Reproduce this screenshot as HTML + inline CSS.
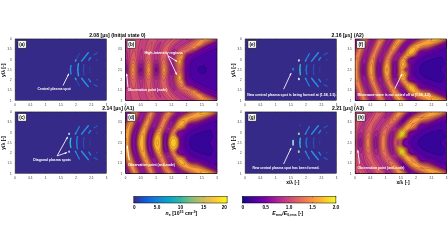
<!DOCTYPE html><html><head><meta charset="utf-8"><title>Plasma spots and E field</title>
<style>html,body{margin:0;padding:0;background:#fff;overflow:hidden}body{width:448px;height:252px;position:relative}svg{position:absolute;left:0;top:0;display:block}text{font-family:"Liberation Sans",sans-serif}</style></head><body>
<svg width="448" height="252" viewBox="0 0 448 252">
<defs><clipPath id="pc"><rect width="91.5" height="61.6"/></clipPath>
<filter id="bl" x="-5%" y="-5%" width="110%" height="110%"><feGaussianBlur stdDeviation="0.45"/></filter>
<linearGradient id="gp"><stop offset="0.000" stop-color="#0d0887"/><stop offset="0.062" stop-color="#310597"/><stop offset="0.125" stop-color="#4c02a1"/><stop offset="0.188" stop-color="#6600a7"/><stop offset="0.250" stop-color="#7e03a8"/><stop offset="0.312" stop-color="#9511a1"/><stop offset="0.375" stop-color="#aa2395"/><stop offset="0.438" stop-color="#bc3587"/><stop offset="0.500" stop-color="#cc4778"/><stop offset="0.562" stop-color="#da5a6a"/><stop offset="0.625" stop-color="#e66c5c"/><stop offset="0.688" stop-color="#f0804e"/><stop offset="0.750" stop-color="#f89540"/><stop offset="0.812" stop-color="#fdac33"/><stop offset="0.875" stop-color="#fdc527"/><stop offset="0.938" stop-color="#f8df25"/><stop offset="1.000" stop-color="#f0f921"/></linearGradient>
<linearGradient id="gq"><stop offset="0.000" stop-color="#352a87"/><stop offset="0.062" stop-color="#2243b2"/><stop offset="0.125" stop-color="#0f5cdd"/><stop offset="0.188" stop-color="#126eda"/><stop offset="0.250" stop-color="#1481d6"/><stop offset="0.312" stop-color="#0d92d0"/><stop offset="0.375" stop-color="#06a4ca"/><stop offset="0.438" stop-color="#1aaeb7"/><stop offset="0.500" stop-color="#2eb7a4"/><stop offset="0.562" stop-color="#5abb8e"/><stop offset="0.625" stop-color="#87bf77"/><stop offset="0.688" stop-color="#acbd68"/><stop offset="0.750" stop-color="#d1bb59"/><stop offset="0.812" stop-color="#e8c246"/><stop offset="0.875" stop-color="#fec832"/><stop offset="0.938" stop-color="#fce220"/><stop offset="1.000" stop-color="#f9fb0e"/></linearGradient>
</defs>
<rect width="448" height="252" fill="#fff"/>
<g transform="translate(15.1 38.9)" clip-path="url(#pc)">
<rect width="91.5" height="61.6" fill="#352a87"/>
<g fill="none" stroke-linecap="round" filter="url(#bl)">
<path d="M62.7 30.8 L62.9 27.8 L63.4 24.8" stroke="#26a0ea" stroke-width="1.4" stroke-opacity="1.00"/>
<path d="M62.7 30.8 L62.9 33.8 L63.4 36.8" stroke="#26a0ea" stroke-width="1.4" stroke-opacity="1.00"/>
<path d="M66.5 22.2 L69.8 18.0 L73.2 13.9" stroke="#2496ec" stroke-width="1.4" stroke-opacity="1.00"/>
<path d="M66.5 39.4 L69.8 43.6 L73.2 47.7" stroke="#2496ec" stroke-width="1.4" stroke-opacity="1.00"/>
<path d="M68.3 30.8 L68.5 28.0 L68.9 25.7" stroke="#1e61d2" stroke-width="1.2" stroke-opacity="0.70"/>
<path d="M68.3 30.8 L68.5 33.6 L68.9 35.9" stroke="#1e61d2" stroke-width="1.2" stroke-opacity="0.70"/>
<path d="M73.7 21.3 L75.5 18.6" stroke="#1f82e6" stroke-width="1.4" stroke-opacity="1.00"/>
<path d="M73.7 40.3 L75.5 43.0" stroke="#1f82e6" stroke-width="1.4" stroke-opacity="1.00"/>
<path d="M79.0 15.9 L82.1 14.1" stroke="#1e64d4" stroke-width="1.3" stroke-opacity="0.80"/>
<path d="M79.0 45.7 L82.1 47.5" stroke="#1e64d4" stroke-width="1.3" stroke-opacity="0.80"/>
<path d="M81.7 20.8 L81.7 20.8" stroke="#1e61d2" stroke-width="1.5" stroke-opacity="0.70"/>
<path d="M81.7 40.8 L81.7 40.8" stroke="#1e61d2" stroke-width="1.5" stroke-opacity="0.70"/>
<path d="M74.6 30.8 L74.8 28.0" stroke="#254cb8" stroke-width="1.1" stroke-opacity="0.50"/>
<path d="M74.6 30.8 L74.8 33.6" stroke="#254cb8" stroke-width="1.1" stroke-opacity="0.50"/>
<path d="M60.3 22.1 L60.9 21.0" stroke="#28aae8" stroke-width="1.5" stroke-opacity="1.00"/>
<path d="M60.3 39.5 L60.9 40.6" stroke="#28aae8" stroke-width="1.5" stroke-opacity="1.00"/>
<path d="M61.3 20.2 L62.7 17.5 L64.3 14.6" stroke="#2055c6" stroke-width="1.1" stroke-opacity="0.80"/>
<path d="M61.3 41.4 L62.7 44.1 L64.3 47.0" stroke="#2055c6" stroke-width="1.1" stroke-opacity="0.80"/>
<path d="M55.4 30.8 L55.5 28.7 L55.9 26.6" stroke="#228ce9" stroke-width="1.4" stroke-opacity="1.00"/>
<path d="M55.4 30.8 L55.5 32.9 L55.9 35.0" stroke="#228ce9" stroke-width="1.4" stroke-opacity="1.00"/>
</g></g>
<rect x="15.1" y="38.9" width="91.5" height="61.6" fill="none" stroke="#000" stroke-width="0.50" stroke-opacity="0.90"/>
<path d="M30.4 100.5v-0.9M30.4 38.9v0.9M15.1 49.2h0.9M106.6 49.2h-0.9M45.6 100.5v-0.9M45.6 38.9v0.9M15.1 59.5h0.9M106.6 59.5h-0.9M60.9 100.5v-0.9M60.9 38.9v0.9M15.1 69.7h0.9M106.6 69.7h-0.9M76.1 100.5v-0.9M76.1 38.9v0.9M15.1 80.0h0.9M106.6 80.0h-0.9M91.3 100.5v-0.9M91.3 38.9v0.9M15.1 90.3h0.9M106.6 90.3h-0.9" stroke="#000" stroke-width="0.35" stroke-opacity="0.8" fill="none"/>
<g fill="#262626"><text x="15.1" y="105.8" font-size="2.80" text-anchor="middle" font-weight="normal">0</text><text x="30.4" y="105.8" font-size="2.80" text-anchor="middle" font-weight="normal">0.5</text><text x="45.6" y="105.8" font-size="2.80" text-anchor="middle" font-weight="normal">1</text><text x="60.9" y="105.8" font-size="2.80" text-anchor="middle" font-weight="normal">1.5</text><text x="76.1" y="105.8" font-size="2.80" text-anchor="middle" font-weight="normal">2</text><text x="91.3" y="105.8" font-size="2.80" text-anchor="middle" font-weight="normal">2.5</text><text x="106.6" y="105.8" font-size="2.80" text-anchor="middle" font-weight="normal">3</text><text x="11.5" y="39.9" font-size="2.80" text-anchor="end" font-weight="normal">4</text><text x="11.5" y="50.2" font-size="2.80" text-anchor="end" font-weight="normal">3.5</text><text x="11.5" y="60.5" font-size="2.80" text-anchor="end" font-weight="normal">3</text><text x="11.5" y="70.7" font-size="2.80" text-anchor="end" font-weight="normal">2.5</text><text x="11.5" y="81.0" font-size="2.80" text-anchor="end" font-weight="normal">2</text><text x="11.5" y="91.3" font-size="2.80" text-anchor="end" font-weight="normal">1.5</text><text x="11.5" y="101.6" font-size="2.80" text-anchor="end" font-weight="normal">1</text></g>
<rect x="17.9" y="40.4" width="8.5" height="7.9" rx="0.8" fill="#fff" stroke="#000" stroke-width="0.6"/>
<text x="22.1" y="45.9" font-size="4.60" text-anchor="middle" font-weight="bold" fill="#000">(a)</text>
<g transform="translate(125.6 38.9)" clip-path="url(#pc)">
<rect width="91.5" height="61.6" fill="#1d068e"/>
<g stroke="#000" stroke-width="0.30" stroke-opacity="0.60" stroke-linejoin="round">
<path fill="#370499" d="M0 0l91.5 0 0 61.6-91.5 0z"/>
<path fill="#4c02a1" d="M0 0l91.5 0 0 61.6-91.5 0zM74.9 27.6l-1 0.4-0.5 0.4-0.5 0.5-0.4 0.7-0.2 1 0 0.5 0.1 0.7 0.4 0.8 0.4 0.5 0.6 0.5 1.1 0.5 0.5 0.1 1 0.2 1 0.1 1-0.2 0.7-0.2 0.6-0.5 0.2-0.4 0.4-1.1 0.1-1-0.1-1.5-0.4-1.2-0.2-0.3-0.6-0.5-1.2-0.4-1.5 0z"/>
<path fill="#6001a6" d="M0 0l91.5 0 0 9.7-1 0.1-1.5 0.3-9.1 3.9-9.9 5-1.6 1-0.8 0.6-0.7 0.6-0.7 0.9-0.6 1-0.5 1-0.3 1-0.4 2-0.2 3.5 0.2 3.5 0.2 1.5 0.4 1.5 0.4 1.1 0.5 0.9 0.7 1 1 1 0.8 0.5 1.6 1 9.9 5 9.1 3.9 1.5 0.4 1 0 0 9.7-91.5 0z"/>
<path fill="#7401a8" d="M0 0l91.5 0 0 6.6-1.5 0.1-2 0.7-7.8 3.6-11.4 6-2.5 1.5-1.4 1.2-1.1 1.4-0.5 1-0.5 1.5-0.6 3-0.2 4 0.2 4 0.5 3 0.5 1.5 0.4 1 0.6 1 0.7 0.8 1.4 1.2 2.5 1.5 11.4 6 7.8 3.6 2 0.7 1.5 0.2 0 6.5-91.5 0z"/>
<path fill="#8707a6" d="M0 0l91.5 0 0 3.5-2.4 1-3.6 1.8-7.2 3.2-2.9 1.5-8 4.8-1 0.5-2.6 0.8-1 0.6-0.5 0.5-1 1.8-0.5 1.6-0.1 4-0.4 5 0.4 5.5 0.1 4 0.5 1.6 1 1.7 0.5 0.6 1 0.6 2.6 0.8 1 0.4 8 4.8 2.9 1.5 7.2 3.3 3.6 1.7 2.4 1 0 3.5-91.5 0z"/>
<path fill="#99159f" d="M0 0l91.5 0 0 2.7-2 0.8-4.5 2.2-5.1 2.3-4 2-5.5 3.2-3 1.6-1.5 0.6-2.6 0.6-1 0.5-0.5 0.6-0.5 1.1-0.9 2.4-0.3 1-0.1 1 0 2.5-0.4 5.5 0 1.5 0.4 4.5 0 2.5 0.1 1 0.3 1 0.9 2.4 0.5 1 0.5 0.6 0.5 0.4 0.5 0.2 2.6 0.6 1.5 0.6 3 1.6 5.5 3.1 4 2 5.1 2.3 4.5 2.2 2 0.8 0 2.7-91.5 0zM15.1 28.5l-0.5 1.6 0 1 0.1 1 0.4 1.1 0.5-0.5 0.2-1.6-0.2-2.1zM30.7 28.3l-0.5 1-0.1 1.3 0.1 1.7 0.5 1.1 0.5-0.5 0.2-1.8 0-1-0.2-1.3z"/>
<path fill="#aa2395" d="M0 0l91.5 0 0 2.1-2 0.8-4.5 2.2-5.1 2.3-5.1 2.6-3.9 2.3-3 1.5-2 0.9-3.1 0.7-1 0.6-0.6 1-1.3 3.6-0.3 1-0.1 1 0 2.5-0.5 5.5 0 1.5 0.5 4.5 0 2.5 0.1 1 0.3 1 1.3 3.5 0.6 1 1 0.6 3.1 0.8 2 0.8 3 1.5 3.9 2.3 5.1 2.6 5.1 2.3 4.5 2.3 2 0.8 0 2-91.5 0 0-24.8 0.5-0.6 0.4-1.6 0.2-1.5 0.1-2.5-0.1-2-0.2-1.5-0.4-1.6-0.5-0.7zM15.1 24.6l-0.5 0.6-0.5 1.3-0.4 2.1-0.1 2.5 0.1 2 0.4 2 0.5 1.4 0.5 0.6 0.5-0.1 0.5-0.9 0.5-2.3 0.1-2.7-0.1-3-0.4-2-0.1-0.6-0.5-0.8zM30.2 25l-0.5 1.1-0.3 1.5-0.2 2 0 2.1 0.1 1.9 0.4 1.9 0.5 1.2 0.5 0.3 0.5-0.4 0.5-1 0.3-1 0.3-2 0-2.5-0.1-2-0.5-2.1-0.5-1-0.5-0.3zM45.8 25.4l-0.3 0.7-0.2 1-0.1 3.5 0.1 4 0.2 1 0.3 0.7 0.5-0.4 1-2.1 0.4-1.7 0.1-1.5-0.1-1-0.4-1.7-1-2.2z"/>
<path fill="#b7318a" d="M0 0l61.3 0-0.2 0.5 0.2 0.1 0.8-0.1 1.2-0.5 28.2 0 0 1.4-2 0.9-4.5 2.3-5.1 2.3-3 1.6-3 1.5-2.5 1.5-1.5 0.9-4 1.6-3.1 0.9-0.5 0.2-0.7 0.4-0.5 0.5-0.3 0.6-1.4 4-0.2 1-0.1 1 0 2.5-0.6 4-0.1 1.5 0.1 1.5 0.6 4.5 0 2.5 0.1 1 0.2 1 1.4 4 0.3 0.5 0.5 0.5 0.7 0.5 0.5 0.2 3.1 0.8 4 1.7 1.5 0.8 2.5 1.6 3 1.4 3 1.7 5.1 2.3 4.5 2.3 2 0.8 0 1.4-28.2 0-1.2-0.5-0.8-0.1-0.2 0.1 0.2 0.5-61.3 0 0-20.7 0.5-0.2 0.5-1.1 0.4-2 0.4-3 0.1-4-0.2-4-0.3-3-0.4-1.6-0.2-0.4-0.3-0.6-0.5-0.3zM15.1 21l-0.5 0.6-0.5 1.1-0.5 1.8-0.5 3.6-0.1 3.5 0.2 3.5 0.4 2 0.2 1 0.3 0.9 0.5 1.1 0.5 0.6 0.5 0 0.5-0.5 0.4-1.1 0.5-2.5 0.3-3 0.1-4-0.3-4-0.5-2.8-0.5-1.3-0.5-0.6zM30.7 21l-0.5 0.1-0.5 0.8-0.5 1.7-0.5 3.5-0.2 3.5 0.2 4 0.5 3.4 0.5 1.7 0.5 0.8 0.5 0.1 0.5-0.5 0.5-1 0.6-2 0.5-3 0.2-3-0.2-3.5-0.5-3-0.6-2-0.5-1zM48.8 10l-0.5 0.3-1 1-1 1.4-1.1 2.2-0.4 1.6-0.2 1-0.5 5.6 0.3 8-0.3 7.5 0.4 5 0.2 1.4 0.5 1.8 1.1 2.1 1 1.5 1 0.9 0.5 0.4 0.5 0 0.1-0.6 0-0.5-1.8-6-0.6-2.5-0.2-2 0.1-1 0.2-1.5 1.3-4.5 0.3-2 0-1-0.2-1-1.4-5-0.2-1.5-0.1-1 0.2-2.1 0.6-2.5 1.8-6 0-0.5-0.1-0.5z"/>
<path fill="#c5407e" d="M0 0l57.7 0-3.9 3.3-4.5 3.4-1.5 1.5-1.5 1.9-1.4 2.4-0.6 1.5-0.4 1.5-0.5 2.5-0.3 3.6 0.1 2 0.4 4.5 0.1 2.5 0 2.5-0.6 5.5 0 2.5 0.4 3.5 0.4 1.5 0.4 1.5 0.6 1.5 0.9 1.6 1 1.5 1 1.3 2 1.8 4 3 3.9 3.3-57.7 0 0-12.6 0.5 0.9 0.5 0.1 0.5-1.3 0.2-1.1 0.3-3.2 0.3-4.8 0.2-9-0.2-8.5-0.3-4.9-0.3-3.2-0.2-1-0.5-1.4-0.5 0.1-0.5 0.9zM16.1 10l-0.5 0.9-1 3.3-1.3 6.4-0.7 5-0.2 5.5 0.3 5.5 0.3 3 0.4 2.5 0.7 3.2 1 4 0.5 1.5 0.5 0.8 0.2-1 0.3-1.8 1.1-9.2 0.2-4 0-5 0-5-0.3-4-1-8.7-0.3-1.9zM34.7 3.3l-0.5 0.3-1 1.1-1.5 2.2-1 2-1.1 3.1-0.6 3.5-0.6 5.6-0.3 4.5-0.1 5.5 0.1 5 0.3 4.5 0.6 6 0.7 3.1 1 3 1 2.1 1.5 2.2 1 1 0.5 0.4 0.5-0.1 0-0.7-2.3-7-0.5-2.5-0.2-2 0-1.5 0.1-2 0.8-5 0.3-2.5 0.1-4.5-0.2-4.5-1-7.1-0.1-2.5 0.1-2.5 0.5-2.5 0.7-2.5 1.7-5 0-0.7zM65.8 0.5l0.8-0.5 24.9 0 0 0.8-2 0.9-4.6 2.3-5 2.3-3 1.8-3.5 1.7-3 1.8-1.5 0.7-3.4 1.2-2.7 0.8-1 0.5-0.5 0.3-0.5 0.5-0.5 0.9-1.4 4.6-0.2 1-0.2 3.5-0.6 3.5-0.1 1.5 0.1 2 0.7 4 0 2.5 0.2 1 1.5 5 0.5 1 0.5 0.4 0.5 0.4 1 0.4 2.7 0.8 3.4 1.2 1.5 0.7 3 1.9 3.5 1.7 3 1.7 5 2.3 4.6 2.4 2 0.8 0 0.8-24.9 0-6.4-4-4.9-2.6-1.5-1.1-1-1-1.4-1.8-0.9-1.5-0.9-2-0.8-2-0.5-2-0.4-2-0.1-2 0.1-1 0.2-1.5 1.2-4.5 0.2-1.5-0.1-1.5-1.2-4.5-0.4-2.5 0-1.5 0.3-2.1 0.4-2 0.5-1.5 1-2.5 1.1-2 1.2-1.7 1.5-1.6 1.5-1.1 4.9-2.6z"/>
<path fill="#d14e72" d="M6.5 0.5l0.1-0.5 8.7 0-1 2.5-0.8 2.5-0.6 2.5-0.4 3-0.3 3-0.1 3.5-0.2 13.6 0.2 13.5 0.1 4 0.3 3 0.4 3 0.6 2.5 0.8 2.5 1 2.5-8.7 0-1.1-4-0.8-4-0.7-6.5-0.7-9-0.3-5.5 0.1-5 0.4-7.4 1-10.7 0.9-5zM23 0.5l0.3-0.5 9.6 0-2 3-1 2-0.7 1.5-0.7 2-0.5 1.5-0.7 3.5-0.2 2 0 2.5 0.3 8.6 0 5.5-0.3 12 0.1 2.5 0.2 2 0.5 2.5 0.6 2 0.9 2.5 1 2 1.2 2 1.3 2-9.6 0-1.3-2.5-1.1-2.5-0.8-2.6-0.6-2.9-0.3-2.5-0.2-2.5-0.5-13.5 0.1-6.5 0.4-11.6 0.5-4 0.8-3.5 1.2-3.5zM41.9 0.5l0.5-0.5 12.8 0-4.9 3.7-1.5 1.2-1.6 1.6-1.5 2-0.9 1.5-0.8 1.5-1 3-0.7 3-0.2 3.1 0.1 2 0.8 5.5 0.1 2.5-0.1 3-0.8 5.5-0.1 3 0.4 3 0.6 2.5 0.7 2 1 2 1.2 2 1.2 1.5 1.1 1.2 1.5 1.3 5.4 4-12.8 0-2.9-3-1.3-1.7-1-1.5-1-1.9-0.9-1.9-0.6-1.9-0.4-1.6-0.4-2.5-0.2-2.5 0.4-10.5 0-6-0.4-7.6 0.1-2 0.2-2 0.4-2 0.6-2 0.8-2 0.9-1.8 1-1.7 1.1-1.5 1.4-1.8zM67.7 0.5l0.9-0.5 22.9 0 0 0.2-2.5 1.1-5 2.6-4.1 1.9-3.5 2.1-3.5 1.6-2 1.4-1 0.5-1 0.5-2.5 0.7-4.1 1.4-1 0.5-0.7 0.5-0.3 0.4-0.3 0.6-0.7 2.5-0.9 2.6-0.1 1-0.1 2.5-0.2 1-0.8 3.5-0.2 1.5 0.1 1.5 0.8 3 0.2 1.5 0.2 3.5 0.3 1 0.9 2.5 0.5 2 0.2 0.5 0.4 0.5 1.2 0.8 4.1 1.5 3 0.9 1 0.4 1 0.6 2 1.3 3.5 1.7 3.5 2.1 4.9 2.2 4.2 2.2 2.5 1.2 0 0.1-22.9 0-3.2-2-5.6-3.9-4-2.2-1.5-1-1.5-1.4-1-1.3-1-1.7-0.9-2-0.6-1.8-0.4-1.7-0.2-1.5-0.1-1.5 0.1-1.5 0.2-1.5 1.1-4 0.3-1.5-0.1-1-0.2-1-0.8-3-0.4-1.5-0.2-2.5 0.1-1.5 0.2-1.6 0.4-1.6 0.6-1.9 0.9-1.9 0.9-1.6 1.1-1.4 1-1 1-0.8 1-0.7 3-1.6 1.5-0.9 4.3-3.1z"/>
<path fill="#dc5d67" d="M46.5 0.5l0.5-0.5 4.5 0-3.7 2.4-1 0.8-1.2 1.3-1.2 2-1 2-0.9 2.5-1.1 3.5-0.5 3-0.1 2.5 0.3 2.1 1.2 6 0.2 1.5 0 1.5-0.3 2.9-0.9 4.6-0.4 2-0.1 2 0.1 1.5 0.5 3 1.1 3.5 0.9 2.5 1.6 3 1 1.5 1.3 1.3 1.5 1.1 2.7 1.6-4.5 0-1.8-1.8-3.5-2.9-2-2-1-1.3-0.9-1.5-1.2-2.5-0.4-1.2-0.5-2.1-0.6-4.2-0.4-8.5 0-3.5 0.1-4 0.4-7.6 0.5-3 0.5-2.2 0.5-1.5 0.5-1.3 1-1.7 1-1.4 2-2.2 3.8-3.2zM69.5 0.5l0.8-0.5 20 0-5.8 3-5.1 2.4-3.2 2.1-3.4 1.5-3 2-1.4 0.6-3 0.6-1.6 0.6-3 1.3-0.5 0.4-0.4 0.5-0.5 1-0.5 2.5-0.9 2.6-0.2 1-0.1 2-0.2 1.5-0.2 1-1 2.5-0.3 1.5 0.2 1.5 1.1 3 0.2 1 0.2 1.5 0.1 2 0.2 1 1 3 0.6 2.5 0.3 0.5 0.4 0.5 1 0.7 4.1 1.6 3 0.7 1.4 0.5 3 2 3.4 1.5 3.2 2.2 5.1 2.3 5.8 3-20 0-4.6-3-5.4-4.4-1.5-0.8-3-1.4-1.5-1-1-0.9-1.1-1.5-0.9-1.5-1.1-2.5-0.5-1.5-0.2-1.5-0.2-1.5 0.1-1.5 0.4-2.5 1.2-4 0.2-1.5-0.2-1-1-3-0.3-1.5-0.3-2-0.1-1.5 0.2-1.6 0.2-1.5 0.5-1.5 0.6-1.4 0.8-1.6 0.7-1.2 1-1.2 1-1 1.5-1 3-1.3 1.5-0.9 4.7-3.9 2.1-1.5zM25.9 3.5l0.2-0.2 0.2 0.2 0.1 0.5-0.1 0.5-0.9 4.5-0.4 2-0.1 1.5 0 2 0.3 3 0.9 5 0.5 3.1 0.2 3 0 3.5-0.3 4.5-0.4 2.5-1.1 6-0.1 3 0.1 2 0.3 2 1 5 0.1 0.5-0.1 0.5-0.2 0.2-0.5-0.3-0.5-0.6-1-1.5-1-2.3-1-3.4-2-9.3-0.5-2.8-0.4-3.5-0.1-3.5 0.1-3.5 0.4-4.1 0.5-2.8 2-9.2 0.5-1.9 1-2.8 1-1.9 1-1.3zM8 11.5l0.5-0.2 0.5 0.9 0.6 2 0.5 2.7 0.5 3.1 0.4 3.6 0.3 6-0.1 6-0.5 5-1.1 6.8-0.6 2.1-0.5 0.8-0.5-0.1-0.5-0.8-0.5-1.1-1-2.9-1-3.6-0.5-2.1-0.5-2.9-0.3-2.7-0.1-2.5 0.1-2.5 0.1-2.5 0.3-2 0.4-2.6 1-4.1 1-3.2 1-2.5z"/>
<path fill="#e66c5c" d="M71.2 0.5l0.7-0.5 17 0-4.7 2.5-5.3 2.4-2.8 2.1-1.2 0.7-2.5 1-1 0.6-1 0.8-1 0.6-1.5 0.5-3 0.2-1.1 0.2-0.5 0.2-1 0.7-1.5 0.7-1 0.7-0.5 0.5-0.3 0.6-0.4 3-1.1 3.1-0.3 3.5-0.4 1.5-0.5 1.1-1.8 2.9-0.2 0.5 0 0.5 0.2 0.5 1.8 2.9 0.5 1.1 0.4 1.5 0.3 3.5 1.1 3 0.4 3 0.3 0.6 0.5 0.6 1 0.6 1.5 0.7 1 0.7 0.5 0.2 1.1 0.2 3 0.3 1.5 0.4 1 0.6 1 0.8 1 0.7 2.5 1 1.2 0.6 2.8 2.1 5.3 2.4 4.7 2.5-17 0-4.4-3-2.4-2-1.9-2-0.6-1-0.8-1.5-0.5-0.4-1-0.3-2.5-0.3-1-0.2-1.5-0.7-1-0.7-1-1.1-1-1.6-1-1.9-0.9-2.3-0.3-1.5 0-1.5 0.1-1.5 0.2-1.5 0.7-2 1.5-3 0.1-0.5 0-0.5-0.1-0.5-1.3-2.5-0.5-1.3-0.4-1.2-0.3-2 0-1.5 0.2-1.9 0.4-1.7 0.6-1.3 1.5-2.7 1-1.3 0.7-0.7 0.8-0.6 1.5-0.6 1-0.2 2.5-0.3 1-0.3 0.5-0.5 0.8-1.5 0.6-1 1.9-2 2.4-2zM37.6 20l0.1-0.1 0.5-0.1 0.5 0.5 1 2.1 1 2.6 0.5 1.7 0.4 1.9 0.2 2-0.2 2.5-0.4 1.9-0.5 1.6-1.5 3.8-0.5 0.9-0.5 0.5-0.5-0.1-0.5-0.6-0.5-1-0.5-1.6-0.6-2.9-0.2-3.5 0-3.5 0.4-3.5 0.4-1.9 0.5-1.6 0.5-1.1zM6.9 21.1l0.1-0.2 0.5-0.3 0.5 0 0.6 0.5 0.4 0.6 0.4 0.9 0.5 1.5 0.3 1.5 0.3 2 0.1 2 0 2.5-0.1 2-0.3 2-0.3 1.5-0.3 1.3-0.6 1.1-0.5 0.7-0.5 0.3-0.5 0-0.5-0.2-0.5-0.5-0.5-0.8-0.6-1.4-0.4-1.2-0.4-1.8-0.2-1.5-0.1-2 0.1-3.5 0.6-3 0.5-1.8 0.5-1.1 0.5-0.8zM22.3 21.1l0.3-0.2 0.5-0.1 0.5 0.3 0.5 0.5 0.5 0.8 0.5 1.2 0.5 1.7 0.4 2.3 0.2 2-0.1 3.5-0.2 2-0.3 1.5-0.5 1.5-0.5 1.1-0.5 0.9-0.5 0.5-0.5 0.2-0.5 0-0.5-0.3-0.5-0.7-0.6-1.2-0.4-1-0.5-2-0.4-3.5 0.1-3.5 0.4-3 0.4-1.5 0.5-1.4 0.5-0.9 0.5-0.6z"/>
<path fill="#ee7b51" d="M72.9 0.5l0.7-0.5 13.8 0-3.7 2-5.3 2.3-1 0.8-0.9 0.9-1.1 0.8-1 0.5-2.5 0.9-0.6 0.3-1.9 1.6-1 0.5-1 0.1-1.5-0.2-0.9-0.5-0.4-0.5-0.1-0.5 0-0.5 0.4-0.8 1-1.3 2.4-2.4zM56.2 13l0.6 0 0.5 0.1 0.5 0.4 0.4 3-0.1 1-0.2 1-0.9 2.1-0.1 1-0.2 2.5-0.4 1.6-0.5 0.9-1 1-0.5 0.3-0.5 0.1-0.5 0-0.5-0.2-0.5-0.5-0.5-0.8-0.4-0.9-0.4-1.5-0.2-1 0-1.5 0.1-1 0.4-1.4 0.5-1.1 2-3.1 1-1.2 0.5-0.4zM6.9 24.6l0.6-0.3 0.5 0.1 0.5 0.4 0.5 0.8 0.6 1.8 0.2 2.7 0 2.5-0.2 1.5-0.3 1-0.3 0.8-0.5 0.9-0.5 0.5-0.5 0.1-0.5-0.2-0.5-0.4-0.5-0.9-0.6-1.8-0.3-2.5 0-2 0.4-2.5 0.5-1.4 0.5-0.8zM22.2 24.6l0.4-0.3 0.5-0.1 0.5 0.3 0.5 0.5 0.5 0.9 0.4 1.2 0.5 2.5 0 2.5-0.5 2.5-0.4 1.2-0.5 0.9-0.5 0.5-0.5 0.2-0.5 0-0.5-0.4-0.6-0.9-0.4-0.8-0.3-1.2-0.3-2 0-2.5 0.3-2 0.3-1.3 0.4-0.7 0.1-0.4zM37.5 25.1l0.2-0.3 0.5-0.2 0.5 0.2 0.5 0.4 0.5 0.7 0.5 0.9 0.5 1.3 0.3 2 0 1-0.1 1.5-0.2 1-0.5 1.2-0.5 1-0.5 0.7-0.5 0.4-0.5 0.1-0.5-0.1-0.5-0.6-0.3-0.7-0.5-1.5-0.3-2 0-2 0.2-2 0.4-1.6 0.5-1.1zM52.6 34.1l0.7-0.5 0.5 0 0.5 0.2 1 0.7 0.5 0.6 0.5 1 0.4 1.5 0.2 2.5 0.1 1 0.9 2 0.3 1.5 0 1-0.4 2.5-0.5 0.5-0.5 0.1-1-0.2-0.5-0.3-0.7-0.6-0.8-1-2-3.1-0.6-1.4-0.3-1-0.1-1 0.1-2 0.2-1 0.5-1.5 0.6-1zM65.9 51.1l1-0.1 1 0 0.6 0.1 0.9 0.4 1.9 1.6 0.6 0.4 2.5 0.8 1 0.5 1.1 0.8 0.9 1 1 0.7 5.3 2.3 3.7 2-13.8 0-5.3-4-1.9-1.8-1.1-1.2-0.6-1-0.2-1 0.1-0.5 0.4-0.5z"/>
<path fill="#f58c46" d="M74.9 0.5l0.6-0.5 10.3 0-2.9 1.5-4.5 1.7-1 0.5-1 0.8-1.1 1.5-0.7 0.5-1.2 0.5-2 0.3-0.8 0.2-0.5 0.5-0.6 1-0.6 0.6-1 0.3-0.5 0-0.9-0.4-0.2-0.5 0-0.5 0.4-0.5 0.7-0.6 1.5-0.9 1.5-2.1 3-2.5zM55.3 16l0.5-0.3 0.5-0.1 0.5 0.2 0.5 0.7 0.1 1-0.1 0.5-0.9 2-0.2 1.1 0 2.5-0.4 1.5-0.5 0.8-0.5 0.4-0.5 0.2-0.5 0-0.5-0.1-0.5-0.5-0.6-0.8-0.5-1.5-0.1-1 0-1 0.3-1.1 0.4-0.9 0.5-0.7 1.3-1.4zM22.3 27.6l0.3-0.3 0.5-0.1 0.5 0.3 0.5 0.9 0.4 1.7 0 1.5-0.3 1.5-0.6 1-0.5 0.4-0.5-0.1-0.5-0.5-0.3-0.8-0.3-1-0.1-1.5 0.2-1.5 0.4-1zM6.9 28.1l0.1-0.3 0.5-0.2 0.5 0.4 0.5 1.1 0.2 1 0 1.5-0.2 1-0.5 1.1-0.5 0.3-0.5-0.2-0.4-0.7-0.4-1.5 0-1 0.1-1 0.2-1zM38 28.1l0.2-0.2 0.5 0 0.5 0.4 0.5 1 0.2 0.8 0 1-0.2 1.2-0.5 1.1-0.5 0.4-0.5 0-0.5-0.5-0.3-0.7-0.2-1 0-1 0.1-1 0.4-1.2zM52.9 35.6l0.4-0.3 0.5-0.2 0.5 0.1 0.5 0.2 0.7 0.7 0.5 1 0.2 1 0 2.5 0.2 1 0.9 2 0.1 0.5-0.1 1-0.5 0.7-0.5 0.2-0.5-0.1-0.5-0.3-1.5-1.9-1.1-1.1-0.4-0.6-0.4-0.9-0.3-1.5 0.1-1.5 0.5-1.5zM66.5 52.1l0.9-0.3 0.5-0.1 1 0.4 0.6 0.5 0.6 1 0.5 0.5 0.8 0.3 2 0.3 1.2 0.4 0.7 0.5 1.1 1.5 1 0.9 1 0.4 4.5 1.7 2.9 1.5-10.3 0-2.1-1.9-2.6-2.1-0.9-1-1-1.5-1.5-0.9-0.7-0.6-0.4-0.5 0-0.5z"/>
<path fill="#fa9e3b" d="M77.9 0l5.6 0-1.1 0.5-1.5 0.5-2 0.4-0.5 0-0.5-0.2-0.2-0.2 0-0.5zM53.3 20.6l0.5-0.4 0.5-0.1 0.5 0.2 0.5 1 0.2 1.3-0.2 1.5-0.5 0.8-0.5 0.3-0.5 0-0.5-0.4-0.5-0.7-0.2-0.5-0.1-0.5 0.1-1 0.2-0.8zM53.6 36.6l0.2-0.1 0.5 0 0.5 0.3 0.5 0.8 0.1 0.5 0.1 1-0.2 1.2-0.5 1.1-0.5 0.1-0.5-0.1-0.5-0.3-0.5-0.7-0.2-0.8-0.1-1 0.3-1 0.5-0.8zM77.7 60.6l0.2-0.2 0.5-0.1 1.5 0.1 1.5 0.4 2.1 0.8-5.6 0-0.2-0.5z"/>
</g></g>
<rect x="125.6" y="38.9" width="91.5" height="61.6" fill="none" stroke="#000" stroke-width="0.50" stroke-opacity="0.90"/>
<path d="M140.8 100.5v-0.9M140.8 38.9v0.9M125.6 49.2h0.9M217.1 49.2h-0.9M156.1 100.5v-0.9M156.1 38.9v0.9M125.6 59.5h0.9M217.1 59.5h-0.9M171.3 100.5v-0.9M171.3 38.9v0.9M125.6 69.7h0.9M217.1 69.7h-0.9M186.6 100.5v-0.9M186.6 38.9v0.9M125.6 80.0h0.9M217.1 80.0h-0.9M201.8 100.5v-0.9M201.8 38.9v0.9M125.6 90.3h0.9M217.1 90.3h-0.9" stroke="#000" stroke-width="0.35" stroke-opacity="0.8" fill="none"/>
<g fill="#262626"><text x="125.6" y="105.8" font-size="2.80" text-anchor="middle" font-weight="normal">0</text><text x="140.8" y="105.8" font-size="2.80" text-anchor="middle" font-weight="normal">0.5</text><text x="156.1" y="105.8" font-size="2.80" text-anchor="middle" font-weight="normal">1</text><text x="171.3" y="105.8" font-size="2.80" text-anchor="middle" font-weight="normal">1.5</text><text x="186.6" y="105.8" font-size="2.80" text-anchor="middle" font-weight="normal">2</text><text x="201.8" y="105.8" font-size="2.80" text-anchor="middle" font-weight="normal">2.5</text><text x="217.1" y="105.8" font-size="2.80" text-anchor="middle" font-weight="normal">3</text><text x="122.0" y="39.9" font-size="2.80" text-anchor="end" font-weight="normal">4</text><text x="122.0" y="50.2" font-size="2.80" text-anchor="end" font-weight="normal">3.5</text><text x="122.0" y="60.5" font-size="2.80" text-anchor="end" font-weight="normal">3</text><text x="122.0" y="70.7" font-size="2.80" text-anchor="end" font-weight="normal">2.5</text><text x="122.0" y="81.0" font-size="2.80" text-anchor="end" font-weight="normal">2</text><text x="122.0" y="91.3" font-size="2.80" text-anchor="end" font-weight="normal">1.5</text><text x="122.0" y="101.6" font-size="2.80" text-anchor="end" font-weight="normal">1</text></g>
<rect x="127.1" y="40.4" width="8.5" height="7.9" rx="0.8" fill="#fff" stroke="#000" stroke-width="0.6"/>
<text x="131.3" y="45.9" font-size="4.60" text-anchor="middle" font-weight="bold" fill="#000">(b)</text>
<g transform="translate(245.1 38.9)" clip-path="url(#pc)">
<rect width="91.5" height="61.6" fill="#352a87"/>
<g fill="none" stroke-linecap="round" filter="url(#bl)">
<path d="M61.1 30.8 L61.2 28.5 L61.8 26.2" stroke="#1e72dd" stroke-width="1.4" stroke-opacity="1.00"/>
<path d="M61.1 30.8 L61.2 33.1 L61.8 35.4" stroke="#1e72dd" stroke-width="1.4" stroke-opacity="1.00"/>
<path d="M66.5 22.2 L69.8 18.0 L73.2 13.9" stroke="#2496ec" stroke-width="1.4" stroke-opacity="1.00"/>
<path d="M66.5 39.4 L69.8 43.6 L73.2 47.7" stroke="#2496ec" stroke-width="1.4" stroke-opacity="1.00"/>
<path d="M68.3 30.8 L68.5 28.0 L68.9 25.7" stroke="#1e61d2" stroke-width="1.2" stroke-opacity="0.70"/>
<path d="M68.3 30.8 L68.5 33.6 L68.9 35.9" stroke="#1e61d2" stroke-width="1.2" stroke-opacity="0.70"/>
<path d="M73.7 21.3 L75.5 18.6" stroke="#1f82e6" stroke-width="1.4" stroke-opacity="1.00"/>
<path d="M73.7 40.3 L75.5 43.0" stroke="#1f82e6" stroke-width="1.4" stroke-opacity="1.00"/>
<path d="M79.0 15.9 L82.1 14.1" stroke="#1e64d4" stroke-width="1.3" stroke-opacity="0.80"/>
<path d="M79.0 45.7 L82.1 47.5" stroke="#1e64d4" stroke-width="1.3" stroke-opacity="0.80"/>
<path d="M81.7 20.8 L81.7 20.8" stroke="#1e61d2" stroke-width="1.5" stroke-opacity="0.70"/>
<path d="M81.7 40.8 L81.7 40.8" stroke="#1e61d2" stroke-width="1.5" stroke-opacity="0.70"/>
<path d="M74.6 30.8 L74.8 28.0" stroke="#254cb8" stroke-width="1.1" stroke-opacity="0.50"/>
<path d="M74.6 30.8 L74.8 33.6" stroke="#254cb8" stroke-width="1.1" stroke-opacity="0.50"/>
<path d="M60.3 22.1 L60.9 21.0" stroke="#2496ec" stroke-width="1.5" stroke-opacity="1.00"/>
<path d="M60.3 39.5 L60.9 40.6" stroke="#2496ec" stroke-width="1.5" stroke-opacity="1.00"/>
<path d="M61.3 20.2 L62.7 17.5 L64.3 14.6" stroke="#228eea" stroke-width="1.1" stroke-opacity="1.00"/>
<path d="M61.3 41.4 L62.7 44.1 L64.3 47.0" stroke="#228eea" stroke-width="1.1" stroke-opacity="1.00"/>
<path d="M54.8 30.8 L54.9 28.3 L55.2 25.8" stroke="#28bcd0" stroke-width="1.4" stroke-opacity="1.00"/>
<path d="M54.8 30.8 L54.9 33.3 L55.2 35.8" stroke="#28bcd0" stroke-width="1.4" stroke-opacity="1.00"/>
<path d="M53.7 21.8 L53.9 21.2" stroke="#d4f0f8" stroke-width="1.8" stroke-opacity="1.00"/>
<path d="M53.7 39.8 L53.9 40.4" stroke="#d4f0f8" stroke-width="1.8" stroke-opacity="1.00"/>
<path d="M48.0 29.6 L48.0 31.2" stroke="#2087e7" stroke-width="1.5" stroke-opacity="1.00"/>
</g></g>
<rect x="245.1" y="38.9" width="91.5" height="61.6" fill="none" stroke="#000" stroke-width="0.50" stroke-opacity="0.90"/>
<path d="M260.4 100.5v-0.9M260.4 38.9v0.9M245.1 49.2h0.9M336.6 49.2h-0.9M275.6 100.5v-0.9M275.6 38.9v0.9M245.1 59.5h0.9M336.6 59.5h-0.9M290.9 100.5v-0.9M290.9 38.9v0.9M245.1 69.7h0.9M336.6 69.7h-0.9M306.1 100.5v-0.9M306.1 38.9v0.9M245.1 80.0h0.9M336.6 80.0h-0.9M321.4 100.5v-0.9M321.4 38.9v0.9M245.1 90.3h0.9M336.6 90.3h-0.9" stroke="#000" stroke-width="0.35" stroke-opacity="0.8" fill="none"/>
<g fill="#262626"><text x="245.1" y="105.8" font-size="2.80" text-anchor="middle" font-weight="normal">0</text><text x="260.4" y="105.8" font-size="2.80" text-anchor="middle" font-weight="normal">0.5</text><text x="275.6" y="105.8" font-size="2.80" text-anchor="middle" font-weight="normal">1</text><text x="290.9" y="105.8" font-size="2.80" text-anchor="middle" font-weight="normal">1.5</text><text x="306.1" y="105.8" font-size="2.80" text-anchor="middle" font-weight="normal">2</text><text x="321.4" y="105.8" font-size="2.80" text-anchor="middle" font-weight="normal">2.5</text><text x="336.6" y="105.8" font-size="2.80" text-anchor="middle" font-weight="normal">3</text><text x="241.5" y="39.9" font-size="2.80" text-anchor="end" font-weight="normal">4</text><text x="241.5" y="50.2" font-size="2.80" text-anchor="end" font-weight="normal">3.5</text><text x="241.5" y="60.5" font-size="2.80" text-anchor="end" font-weight="normal">3</text><text x="241.5" y="70.7" font-size="2.80" text-anchor="end" font-weight="normal">2.5</text><text x="241.5" y="81.0" font-size="2.80" text-anchor="end" font-weight="normal">2</text><text x="241.5" y="91.3" font-size="2.80" text-anchor="end" font-weight="normal">1.5</text><text x="241.5" y="101.6" font-size="2.80" text-anchor="end" font-weight="normal">1</text></g>
<rect x="247.9" y="40.4" width="8.5" height="7.9" rx="0.8" fill="#fff" stroke="#000" stroke-width="0.6"/>
<text x="252.2" y="45.9" font-size="4.60" text-anchor="middle" font-weight="bold" fill="#000">(e)</text>
<g transform="translate(355.1 38.9)" clip-path="url(#pc)">
<rect width="91.5" height="61.6" fill="#1d068e"/>
<g stroke="#000" stroke-width="0.30" stroke-opacity="0.60" stroke-linejoin="round">
<path fill="#370499" d="M0 0l91.5 0 0 61.6-91.5 0z"/>
<path fill="#4c02a1" d="M0 0l91.5 0 0 61.6-91.5 0zM83 18.5l-3.4 1-7.4 2.6-2.2 1-1.6 1-1.2 1-0.8 0.9-0.5 0.6-0.6 1-0.4 1-0.2 1-0.1 1 0.1 1.5 0.2 1 0.4 1 1 1.5 1.6 1.6 2.1 1.4 2.2 1 8.9 3 2.9 0.7 1 0.1 1-0.1 0.7-0.2 0.5-0.5 1.1-3 1.4-2.5 0-0.5-0.2-0.5-2.4-2-0.9-1-0.3-0.5-0.4-1-0.1-1 0.1-0.5 0.4-1 0.7-1 0.9-0.9 2-1.6 0.2-0.5 0-0.5-1.4-2.5-0.9-2.6-0.4-0.7-0.5-0.4-1-0.1-1 0z"/>
<path fill="#6001a6" d="M0 0l91.5 0 0 9.6-2 0.2-2.5 0.7-10.6 4.3-7 2.5-1.5 0.7-1 0.7-2 1.3-1.8 1.6-1.3 1.2-1 1.3-0.6 1-0.5 1.5-0.4 2-0.1 2 0.1 2.3 0.3 1.7 0.2 1 0.7 1.5 0.8 1.2 1.3 1.3 1.7 1.5 2.1 1.6 1.5 0.9 1.5 0.7 7 2.5 9.2 3.8 3.4 1.1 1.5 0.3 1 0.1 0 9.5-91.5 0z"/>
<path fill="#7401a8" d="M0 0l91.5 0 0 7.4-2 0.2-3 0.9-13.1 5.4-5 1.5-1.5 0.8-1.4 0.8-1.7 1.3-3.7 3.3-1 1-0.6 1-0.7 1.5-0.3 1.5-0.3 2-0.1 2.5 0.2 2.5 0.3 2 0.4 1.5 0.8 1.5 0.8 1 1 1 3.8 3.1 1.5 1.1 1.2 0.8 1.3 0.6 5 1.6 13.1 5.3 3 0.9 2 0.3 0 7.3-91.5 0z"/>
<path fill="#8707a6" d="M0 0l91.5 0 0 4.9-3 1.1-3.7 1.5-4.6 2-4.8 2.3-2.5 1-2 0.4-3.5 0.1-1.1 0.2-0.7 0.5-0.6 0.5-2.3 3-1.4 1.3-1 0.6-2.5 0.8-1 0.5-0.7 0.9-0.5 1-0.2 0.5 0 0.5 0.6 1.5 0.1 1.5-0.4 4 0.4 5-0.1 1-0.6 1.5 0 0.5 0.4 1 0.7 1 0.8 0.6 1 0.4 1.5 0.4 1.5 0.8 1.4 1.3 2.3 3 0.6 0.5 0.8 0.5 1 0.3 3.5 0 2 0.5 2.5 1 4.8 2.2 4.6 2 3.7 1.6 3 1.1 0 4.8-91.5 0z"/>
<path fill="#99159f" d="M0 0l56.1 0-2.3 1.5-2 1.5-1.5 1.4-1.5 1.6-2 2.6-1.5 2.4-0.6 1.5-0.1 0.5 0 0.5 0.1 0.1 0.5 0 1.6-1.1 1-1.1 3.2-3.9 1.8-2 3-2.9 2.9-2.6 32.8 0 0 3.7-4.5 2-6.6 2.8-5 2.3-2 0.8-2 0.5-1 0.1-3 0.1-1 0.2-0.5 0.2-0.7 0.3-0.8 0.8-2.4 3.2-1.2 1.2-1.5 0.7-3 0.7-1.1 0.4-0.6 0.6-0.4 0.5-0.3 0.5-0.1 0.5-0.1 0.5 0.1 0.5 1 2 0.4 1 0 1.5-0.5 2.5 0 1 0.5 3 0 1-0.2 1-1.2 2.5-0.1 0.5 0.1 0.6 0.4 0.9 0.4 0.5 0.6 0.5 1.2 0.5 1.9 0.4 1.5 0.4 1 0.6 0.5 0.4 1.1 1.2 2 2.8 0.8 0.7 0.7 0.4 0.5 0.2 1 0.1 3 0.1 1 0.1 2 0.5 2 0.8 5 2.3 6.6 2.8 4.5 2.1 0 3.6-32.8 0-2.9-2.5-3-3-1.8-2-3.2-3.9-1-1-1.6-1.1-0.5-0.1-0.1 0.1 0 0.5 0.1 0.5 0.6 1.5 1.5 2.4 2 2.6 1.5 1.6 1.5 1.4 2 1.6 2.3 1.4-56.1 0zM8.5 24.5l-0.5 1.1-0.5 2.5-0.1 2.5 0.1 3 0.5 2.5 0.5 1.1 0.4-0.6 0.1-0.5 0.1-2-0.1-8.5-0.1-0.5zM24.6 22.9l-0.5 0.2-0.5 0.8-0.5 1.5-0.5 2.7-0.1 2.5 0.1 2.9 0.5 2.8 0.5 1.4 0.5 0.9 0.5 0.2 0.4-1.2 0.1-2 0-10.5-0.2-1.5zM39.7 22.3l-0.5 0.6-0.6 1.7-0.3 2.5-0.1 3.5 0.1 3.5 0.3 2.5 0.1 0.9 0.5 1.3 0.5 0.6 0.5-0.2 0.3-1.1 0.2-1.7 0.5-5.3-0.2-2.5-0.3-3.4-0.2-1.6-0.3-1.2z"/>
<path fill="#aa2395" d="M0 0l0.6 0-0.6 1.4zM1.3 0.5l0.2-0.5 15 0-1.4 3.6-2.3 6.4-1 2-2.2 4.4-1.6 3.7-1 3.6-0.3 1.9-0.2 2-0.2 3 0.1 2.5 0.2 2.5 0.4 2.4 1 3.6 1.6 3.6 2.2 4.4 1 2 2.3 6.5 1.4 3.5-15 0-1.3-3-0.2-0.7 0-54.2zM18.6 0.5l0.2-0.5 14.4 0-1.5 2.5-1.5 3-1.1 2.5-1.7 5.5-0.4 1-2.4 3.8-1 2-0.5 1.3-0.5 1.6-0.5 2.4-0.3 2.5-0.1 2.5 0.1 2.5 0.3 3 0.5 2.3 0.5 1.7 0.5 1.2 1 2 2.4 3.8 0.4 1 1.7 5.5 1.1 2.5 1.5 3 1.5 2.5-14.4 0-3.4-6.5-1.6-3.5-0.9-2.5-1.1-4-1-5.5-0.5-3.5-0.1-2.5-0.1-3 0.1-3 0.2-2.5 0.4-3 1-5.6 0.9-3.5 0.7-2 1.5-3.5zM37.1 0.5l0.4-0.5 16.6 0-1.9 1.5-1.9 1.8-2 2.1-1.5 1.9-2.6 3.7-2.8 5-2.2 3.6-0.5 1-0.5 1.4-0.3 1.6-0.3 2 0 3.5 0 5.5 0.1 2.5 0.5 2.5 0.5 1.4 0.5 1.1 2.2 3.5 2.8 5.1 2.6 3.7 1.5 1.8 2 2.2 1.9 1.7 1.9 1.5-16.6 0-2.5-3.5-3.8-5.9-2.8-4.1-0.6-1-0.3-1-0.6-3-0.6-4-0.4-4.5-0.1-3.5 0.1-3.5 0.4-4.5 0.6-4.6 0.4-2.5 0.5-1.5 0.6-1 2.8-4 3.8-6zM60.5 0.5l0.8-0.5 30.2 0 0 2.9-5 2.4-12.6 5.3-2.5 0.7-3.5 0.3-2 0.5-1 0.5-1.1 0.9-2.1 3-1.4 1.3-1.5 0.7-2.1 0.5-1.4 0.5-0.9 0.5-0.5 0.6-0.5 1-0.1 1 0.2 1 0.8 2 0.2 0.5 0 1-0.3 1.5-0.5 1.5-0.1 1 0.8 2.5 0.1 1.5-0.2 1-0.8 2-0.2 1 0 0.6 0.3 0.9 0.3 0.5 0.5 0.5 0.9 0.5 1.4 0.5 2.1 0.6 1.5 0.7 1.4 1.2 2.1 3.1 1.2 0.9 0.9 0.5 1 0.3 1.5 0.2 3 0.2 2 0.5 2.5 1 12.6 5.5 3 1.4 0 2.9-30.2 0-2-1.2-2-1.4-2-1.6-2-1.9-2.2-2.4-4.3-5.4-3.1-3.1-0.8-1-0.5-1-0.5-1.5-0.4-2.5 0-2 0.3-4 0-2-0.3-6.5 0.1-1.5 0.2-1.5 0.2-1.1 0.4-1 0.5-1 0.8-1 3.6-3.7 3.8-4.8 1.8-2 2.9-2.7 2-1.5zM0 60.6l0-0.3 0.6 1.3-0.6 0z"/>
<path fill="#b7318a" d="M3 0.5l0.2-0.5 12.1 0-6.3 15-1.5 4.1-1 3.8-0.3 2.2-0.3 2.5-0.1 3 0.1 3 0.3 3 0.3 2.2 1 3.8 1.5 4.1 6.3 14.9-12.1 0-3.2-7.9 0-45.8zM20 0l12.4 0-1.7 2.9-1.5 2.9-6.1 13.7-1 3.3-0.4 2.3-0.3 2.5-0.1 3 0.1 3 0.2 2.6 0.5 2.7 1 3.3 6.1 13.7 1.5 2.9 1.7 2.8-12.4 0-3.1-6.5-3.1-7.5-1.5-4.5-0.9-4-0.6-4.5-0.1-2.5 0-2.5 0.2-4 0.4-2.5 0.5-2.5 1.1-4.1 1.5-4 3-7zM37.9 0.5l0.4-0.5 14.9 0-1.9 1.6-1.5 1.5-1.5 1.6-1.6 1.8-2.5 3.5-5 8-1 2-0.6 2.1-0.4 2.5-0.1 3 0 7.5 0.2 2.5 0.4 2.6 0.5 1.4 0.4 1 1.1 1.9 3.5 5.6 3.1 4.4 1.5 1.9 1.5 1.6 2 2 1.9 1.6-14.9 0-1.9-2.5-1.9-3-4-7-1.7-3.5-0.7-2-0.6-2-0.6-3-0.4-3-0.2-2.5-0.1-2.5 0.1-2.5 0.2-2.5 0.4-2.5 0.6-3.1 0.9-3 0.6-1.5 1-2 4.5-8 1.9-3zM61.8 0.5l0.9-0.5 28.8 0 0 2.4-6 2.8-11.1 4.6-1.5 0.5-1.5 0.4-4.5 0.6-1.5 0.6-1 0.6-0.6 0.5-2.3 3-1.2 1.2-1 0.6-1 0.4-2.6 0.8-1.4 0.8-0.5 0.4-0.5 0.7-0.3 1.2 0 0.5 0.1 1 0.8 2 0.1 1 0 0.5-0.4 1.5-0.9 1.5-0.2 0.5 0 0.5 0.2 0.5 0.9 1.5 0.4 1.5 0 0.5-0.1 1-0.8 2-0.1 1 0 0.5 0.2 1 0.8 1 0.7 0.5 0.6 0.3 3.5 1.2 1.5 0.9 1.2 1.1 2.3 3 0.6 0.5 1 0.7 1.5 0.5 4.5 0.6 1.5 0.4 1.5 0.5 11.1 4.6 6 2.8 0 2.4-28.8 0-2.9-1.6-2.5-1.7-2-1.6-2-1.8-2.5-2.8-3.5-4.6-3-3.4-0.8-1-0.5-1-0.6-1.5-0.4-2.5 0-2 0.3-5.5-0.3-6 0.1-1.5 0.2-1.5 0.3-1 0.4-1.1 0.5-1 0.8-1 3-3.3 3.5-4.7 2.5-2.7 1.5-1.4 2-1.7 2-1.4z"/>
<path fill="#c5407e" d="M3.8 0.5l0.3-0.5 10.4 0-1.9 4.5-3.6 8.5-1 2.7-1 3-0.7 2.9-0.6 3-0.3 3-0.1 3 0.1 3.5 0.3 3 0.6 3 0.7 2.9 1 3 1 2.6 3.6 8.6 1.9 4.4-10.4 0-4.1-10.1 0-41.4zM20.5 0.5l0.3-0.5 11 0-2.1 3.5-1.6 3-4 8.9-1.5 3.7-0.7 2.5-0.6 3-0.3 3-0.1 3 0.1 3.5 0.3 3 0.6 3 0.7 2.4 1.5 3.8 4 8.8 1.6 3 2.1 3.5-11 0-2.4-5-4.2-10-1.4-4-0.5-2-0.6-2.5-0.5-4-0.1-2 0-2.5 0.3-4 0.7-4 0.9-3.1 1.4-4 3.5-8.5zM38.5 0.5l0.3-0.5 13.7 0-3.2 3-3 3.5-2.6 3.5-4.9 7.5-1 2-0.6 2.1-0.3 2-0.1 3 0 11 0.4 2.6 0.4 1.4 0.4 1 0.7 1.4 1 1.6 4 6 2.1 2.9 3 3.6 1.5 1.5 2.2 2-13.7 0-1.8-2.5-1.6-2.5-1.4-2.5-2.7-5-1.4-3-0.9-2-0.7-2-0.7-2.5-0.5-2.5-0.3-2-0.2-2.5 0-2.5 0.1-2.5 0.3-2 0.4-2.5 0.6-2.5 0.6-2.1 0.8-2 3.5-7 2.5-4.5 1.6-2.5zM62.9 0.5l0.9-0.5 27.7 0 0 2-5.5 2.6-10.1 4.2-2.5 0.9-2 0.5-4 0.6-1 0.3-1 0.4-1 0.6-1 0.9-2.1 2.7-0.7 0.8-0.8 0.6-1 0.6-3.5 1.2-1.1 0.6-0.6 0.5-0.4 0.6-0.3 0.5-0.2 1 0 1 0.7 2 0.2 1 0 0.5-0.1 1-0.4 1-0.4 0.5-1 1-0.3 0.5 0 0.5 0.3 0.5 1.1 1.1 0.5 0.8 0.2 0.6 0.1 1 0 0.5-0.2 1-0.7 2 0 1 0.2 1 0.3 0.5 0.4 0.5 0.6 0.5 1.1 0.6 3.5 1.2 1 0.6 0.8 0.6 0.7 0.8 2.1 2.7 1 0.9 1 0.6 1 0.4 1 0.3 4 0.6 2 0.5 2.5 1 10.1 4.1 5.5 2.7 0 1.9-27.7 0-2.5-1.3-3-1.8-2.5-1.9-2-1.7-2.1-2.3-3.9-5.2-3.3-3.8-0.7-1-0.5-1-0.4-1-0.4-1.5-0.2-2.5 0.3-5.5-0.2-5 0-2 0.2-2 0.7-2.1 0.5-1 0.7-1 3.3-3.8 3.5-4.7 2-2.2 2-1.9 2-1.5 2.5-1.7z"/>
<path fill="#d14e72" d="M4.8 0l9 0-2 4.5-2.8 7-1.5 3.8-0.9 2.7-0.7 3.1-0.5 3-0.4 3.5-0.1 3 0.1 3 0.3 3.5 0.6 3.5 0.7 3 0.9 2.8 1.5 3.7 2.8 7 2 4.5-9 0-4.8-11.9 0-37.7zM21.4 0l9.8 0-2.1 3.5-2.1 4-3 6.5-1.6 4-0.9 3.1-0.5 3-0.3 3-0.2 3.5 0.1 3.5 0.4 3.5 0.5 3 0.9 3 1.6 4 3 6.5 2.1 4 2.1 3.5-9.8 0-2.3-5-5-12-1.3-4-0.9-4-0.4-3.5 0-4 0.4-4 0.7-3.5 1-3.2 1.3-3.4 4.2-10zM39 0.5l0.4-0.5 12.4 0-3 3-2.6 3-2.6 3.5-5.2 7.5-1 2-0.6 2.1-0.3 2-0.1 2.5 0.1 12.5 0.3 2.5 0.3 1 0.5 1.5 0.8 1.5 1 1.5 6 8.5 2.9 3.5 1.5 1.6 2 1.9-12.4 0-1.7-2.2-1.5-2.3-1.4-2.5-1.8-3.5-2.8-5.8-1-2.2-0.8-2.5-0.7-2.8-0.4-2.2-0.3-2 0-4 0.1-2 0.3-2.5 0.4-2 0.6-2 0.8-2.4 0.9-2.2 4.2-8.5 2.3-4zM64 0.5l1-0.5 26.5 0 0 1.6-6.1 2.9-10.5 4.2-3 1-4.5 0.8-1 0.2-1 0.4-1 0.7-1 0.7-2.3 3-1.3 1.2-1.5 0.9-3.5 1.3-1 0.6-0.5 0.4-0.5 0.7-0.2 0.5-0.2 1 0.1 1 0.7 2.5 0.1 1-0.1 0.5-0.3 1-0.4 0.5-1.2 1.1-0.3 0.4-0.2 0.5 0 0.5 0.2 0.5 0.4 0.5 1.1 1 0.4 0.5 0.3 1 0.1 0.5-0.1 1-0.6 2-0.2 1 0.1 1 0.1 0.5 0.6 1 1.1 0.9 1 0.5 3 1 1.5 0.9 1.3 1.2 2.3 3 1 0.8 1 0.6 1 0.4 1 0.3 4 0.7 2.5 0.7 11.5 4.5 6.1 2.9 0 1.6-26.5 0-3.7-1.8-3-1.8-2.5-1.8-2-1.8-1.3-1.3-1.2-1.5-3.5-4.8-2.7-3.2-0.9-1.2-0.6-1.3-0.7-2-0.2-2 0-1.5 0.3-5-0.3-5.5 0.2-2.5 0.3-1.2 0.6-1.4 0.9-1.5 3.1-3.6 3.5-4.9 1.2-1.5 1.3-1.3 2-1.7 2-1.5 2.5-1.6z"/>
<path fill="#dc5d67" d="M5.3 0.5l0.3-0.5 7.5 0-1.8 4-2.5 6-1.5 4-1 3-0.8 3.6-0.6 3-0.3 3.5-0.1 3.5 0.1 3.5 0.3 3.5 0.5 3 0.8 3.5 1.1 3.5 1.1 3 2.5 6 2.2 5-7.5 0-5.6-13.8 0-34zM22.1 0l8.5 0-2.2 3.5-2.6 5-2.3 5-1.6 4-0.7 2.5-0.6 3.6-0.3 3-0.1 4 0 3.5 0.3 3.5 0.5 3 0.9 3.5 1.6 4 2.3 5 2.6 5 2.2 3.5-8.5 0-2-4.2-6-14.4-1.2-3.9-0.5-2-0.3-2-0.2-3 0-3.5 0.4-3.5 0.8-3.3 1-3.1 1-2.5 5-12zM39.6 0.5l0.3-0.5 11.3 0-2.5 2.5-2.6 3-6.7 9-1.4 2-1 2-0.5 1.5-0.3 2.1-0.2 2.5 0.2 6-0.2 6 0.1 2 0.3 2.5 0.6 2 0.7 1.5 1 1.5 6.2 8.5 3.3 4 3 3-11.3 0-1.2-1.6-1.6-2.4-1.4-2.3-1.1-2.2-4.9-10.5-1-2.7-0.9-3.3-0.4-3.5-0.1-2 0-2 0.4-3.5 0.5-2.1 0.5-1.8 0.5-1.4 1-2.4 4.9-10.4 2.1-3.7zM65.1 0.5l1.1-0.5 25.3 0 0 1.2-5.8 2.8-10.3 4.1-2.8 0.9-5.2 1-1 0.3-1 0.4-1 0.6-1.1 0.9-0.7 0.8-1.8 2.3-1.3 1.2-0.7 0.5-1 0.5-2.5 0.9-1 0.5-1 0.6-0.8 1.1-0.2 0.5-0.2 1 0.1 1 0.6 2.5 0.1 1-0.1 0.5-0.4 1-0.4 0.5-1.2 1-0.3 0.5-0.2 0.5 0 0.5 0.2 0.5 0.3 0.5 1.5 1.3 0.4 0.7 0.1 0.5 0.1 0.5-0.1 1-0.7 3 0 1 0.4 1 0.8 1 1 0.7 1 0.4 2.5 0.9 1 0.5 0.7 0.5 1.3 1.2 1.8 2.3 0.7 0.9 1.1 0.8 1 0.6 1 0.4 1 0.3 4 0.7 2.5 0.7 10.6 4.1 3.3 1.5 3.7 1.9 0 1.1-25.3 0-3.9-1.8-3-1.7-3-2-2-1.7-1.5-1.5-1.5-1.8-3.1-4.5-3.3-4-0.6-1-0.5-1-0.6-1.9-0.2-1.6 0.1-2 0.2-4.5-0.3-5.5 0.1-1.5 0.2-1 0.4-1.4 0.5-1.1 1-1.5 3.1-3.7 3-4.4 1.5-1.8 1.5-1.5 2-1.7 2.5-1.7 2.5-1.4z"/>
<path fill="#e66c5c" d="M6.4 0l5.8 0-2 4.5-1.9 4.5-1.5 4-1.1 3.5-0.9 4.1-0.4 3-0.3 3.5-0.1 3.5 0.1 4 0.3 3.5 0.4 3 0.9 4 1.1 3.5 1.5 4 1.9 4.5 2 4.5-5.8 0-6.4-15.8 0-29.9zM22.6 0.5l0.2-0.5 7.1 0-2.5 4-2.9 5.5-1.7 3.5-1.3 3.5-0.7 2.5-0.6 3.6-0.3 4-0.1 4 0.1 4.5 0.3 4 0.6 3.5 0.7 2.5 1.3 3.5 1.7 3.5 2.9 5.5 2.5 4-7.1 0-1.7-3.6-3.3-8.4-3.2-7.1-1-2.8-0.5-1.6-0.6-3.5-0.2-3.5 0.1-3 0.4-3 0.8-3.1 0.5-1.6 1-2.5 2.7-5.9 3.3-8.3zM40.1 0.5l0.5-0.5 9.9 0-2.2 2.3-2.4 2.7-7.3 9.5-1.1 1.5-0.6 1-0.6 1.5-0.5 2.1-0.2 2.5 0.2 7.5-0.2 8 0.3 3 0.5 2 0.5 1 1 1.5 8 10.5 2.4 2.7 2.2 2.3-9.9 0-1.4-1.7-1.5-2.2-2-3.6-2.8-6.5-3.2-6.5-1-2.9-0.6-2.6-0.4-3.5 0-3.5 0.5-3.1 0.5-2.1 0.5-1.5 1-2.5 2.2-4.4 2.8-6.4 1-2 2-3.4zM66.5 0.5l1.1-0.5 23.9 0 0 0.8-3.5 1.7-3.3 1.5-9 3.5-3.3 1.1-5.5 1.1-1.5 0.6-1 0.6-1.1 0.8-1 1.1-1.7 2.2-1.3 1.3-1.5 0.9-3.5 1.3-0.9 0.5-0.6 0.5-0.7 1.1-0.2 0.5-0.1 1 0.1 1 0.6 2.5 0 1-0.1 0.5-0.2 0.5-0.3 0.5-1.6 1.5-0.3 0.5-0.1 0.5 0 0.5 0.1 0.5 0.3 0.5 1.6 1.5 0.3 0.5 0.2 0.5 0.1 0.5 0 1-0.7 3 0 1 0.3 1 0.7 1 1 0.8 1 0.5 3.3 1.2 1.2 0.8 1.3 1.2 1.7 2.2 1 1.1 1.1 0.9 1 0.6 2 0.7 4.5 0.9 2.3 0.6 9.3 3.5 3.5 1.5 4.5 2.3 0 0.7-23.9 0-1.1-0.5-4.3-2-2.9-1.5-3-1.9-2-1.7-1.3-1.4-1.3-1.5-3.4-5.1-3.1-3.7-1-1.7-0.5-1.5-0.3-2 0-2 0.3-4.5-0.3-4 0-1.5 0.1-1.5 0.2-1.1 0.5-1.4 0.5-1 1.1-1.4 2.5-3.1 3.5-5.2 1.5-1.7 1.5-1.5 2-1.6 2.5-1.6 2.9-1.5z"/>
<path fill="#ee7b51" d="M7.5 0.5l0.2-0.5 3.3 0-2.1 4.5-2.1 5-1 3-1 4-0.7 4.1-0.5 5-0.2 5 0.2 5.5 0.2 3 0.5 3.5 0.6 3 0.8 3 1.1 3.5 1 2.5 3.2 7-3.3 0-3.4-8.5-3.3-7.3-1-2.5 0-25 1-2.5 3.3-7.3zM23.5 0.5l0.2-0.5 5.3 0-3.2 5-3.4 6-1.1 2.5-0.9 3-0.6 4.1-0.5 6 0 7.5 0.4 6 0.2 2.5 0.5 2.5 0.5 2 0.6 1.5 0.9 2 2 3.5 2.1 3.5 2.5 4-5.3 0-1.6-3.6-2.8-7.9-0.9-2-2.8-5.2-1-2.3-1-3.2-0.5-2.3-0.2-1.5-0.1-3 0.2-3 0.5-3 0.6-2.1 0.5-1.4 1-2.3 2.8-5.3 0.9-2 2.3-6.5zM40.8 0.5l0.5-0.5 8.4 0-3.2 3.5-5.8 7.3-3.7 4.2-1 1.5-0.5 1-0.3 1.5-0.2 2.1 0 2 0.4 7.5-0.1 3-0.3 5.5 0.1 3 0.4 2 0.5 1 0.7 1 4.5 5.3 5.3 6.7 3.2 3.5-8.4 0-1.1-1.2-2-3-1.5-2.7-1-2.2-1.7-4.9-0.6-1.5-3.2-5.6-1-2.5-0.5-1.8-0.4-2.1-0.2-2.5 0.1-3.1 0.5-3 0.5-1.8 0.5-1.4 1-2.1 2.7-4.7 0.6-1.5 1.7-4.8 1.5-3.2 1.5-2.6zM68.1 0.5l1.1-0.5 22.3 0 0 0.3-4.4 2.2-2.3 1-7.9 3-4 1.3-5 1.1-1.5 0.4-1 0.4-1.6 1-0.8 0.8-0.9 1-1.8 2.3-1.3 1.2-0.7 0.5-1.1 0.5-3.4 1.3-1 0.7-0.5 0.4-0.5 0.6-0.2 0.6-0.2 1 0.1 1.5 0.5 2.5 0 1-0.1 0.5-0.2 0.5-0.4 0.5-1.5 1.5-0.3 0.5-0.1 0.5 0.1 1 0.3 0.5 1.5 1.5 0.5 0.7 0.2 0.8 0 1-0.6 3 0 1 0.2 1 0.6 1 0.5 0.5 0.6 0.4 1.5 0.7 2.4 0.9 1.1 0.5 0.7 0.5 1.3 1.2 1.8 2.3 0.9 1 0.8 0.8 1.6 1 1 0.4 1.5 0.5 4 0.8 2.1 0.5 7 2.5 3.8 1.5 2.3 1 4.4 2.3 0 0.2-22.3 0-6.7-3-3-1.5-2.2-1.3-2-1.5-1.8-1.7-1.2-1.4-1-1.4-3-4.7-2.9-3.5-0.7-1.1-0.4-0.9-0.3-1.5-0.2-1.5 0-1.5 0.3-3 0.1-1.5-0.4-4 0-1.5 0.2-1.5 0.2-1.3 0.5-1.2 0.5-0.9 0.6-0.7 2.1-2.5 0.8-1 2.1-3.5 1.4-2 1.3-1.5 1.6-1.5 1.9-1.5 2.5-1.5 3-1.5z"/>
<path fill="#f58c46" d="M25.4 0l1.9 0-1.2 1.5-0.5 0.5-0.5 0.2-0.1-0.2 0-0.5 0.1-0.7zM42.2 0l6.5 0-2.2 2.5-4.3 5.2-2 2.3-1 1-1 0.8-1 0.5-0.5-0.1-0.2-0.7 0.1-1.5 0.6-2 0.5-1.2 1-2 1-1.6 1-1.4zM70 0.5l1.1-0.5 19.8 0-5.1 2.5-2.4 1-4.1 1.5-6.2 2-5.2 1.1-2 0.6-1.5 0.9-1.6 1.3-2.8 3.6-1.2 1.1-1.5 0.9-3.5 1.3-1 0.5-1.1 0.7-0.6 1-0.2 0.6 0 1 0.1 1.5 0.5 2.5 0 1-0.5 1-1.8 2-0.3 0.5-0.1 0.5 0.1 1 0.3 0.5 1.8 2 0.5 1 0 0.5 0 1-0.6 3 0 1 0.2 1 0.6 1 1.1 0.8 1 0.4 3.5 1.3 1.5 0.9 1.2 1.1 2.8 3.6 1.6 1.3 1.5 0.9 2 0.7 5.2 1 6.2 2 4.1 1.5 2.4 1 5.1 2.5-19.8 0-4.7-2.1-6.5-2.9-2.1-1.1-2-1.4-1.5-1.3-1-1.1-1-1.2-0.9-1.4-1.9-3.5-0.6-1-3.1-3.5-0.6-0.9-0.5-1.1-0.3-1.5-0.1-1 0-1.5 0.5-3.5 0-1-0.5-4 0-1.5 0.1-1 0.3-1.5 0.5-1.2 0.6-0.8 3.1-3.6 0.6-1 1.8-3.3 1.5-2.2 1.3-1.5 1.2-1.1 2-1.4 2.5-1.5zM1.9 18.5l0.1-0.1 0.5 0.2 0.2 0.9 0 1.6-0.1 9.5 0.1 10.5-0.2 1.9-0.5 0.2-0.5-0.5-0.5-0.7-1-2.3 0-17.8 1-2.2 0.5-0.8zM17.3 19l0.3-0.2 0.5 0.2 0.2 0.5 0.3 1.6 0.1 2-0.1 17.3-0.1 1.2-0.4 1 0 0.1-0.5 0.1-0.5-0.3-1-1.3-1-1.9-0.5-1.3-0.5-1.7-0.5-2.2-0.2-3 0.1-2 0.1-1.5 0.5-2.3 0.5-1.7 0.5-1.3 1-1.9 0.5-0.7zM32 20.6l0.7-0.5 0.5 0 0.5 0.7 0.5 2.3 0.2 1.5 0.3 2.2 0.2 2.8 0 2-0.1 2.5-0.6 4.5-0.5 2.2-0.5 0.7-0.5 0.1-0.5-0.3-1-1.1-1-1.7-0.5-1.2-0.5-1.6-0.3-1.1-0.2-1.5-0.1-1.5 0.1-3 0.6-3 0.4-1.2 1-2.2 0.5-0.8zM36.6 49.6l0.1-0.2 0.5-0.1 0.5 0.2 1 0.7 1 0.9 2 2.2 4.3 5.3 2.7 3-6.5 0-1.5-1.8-1-1.4-1-1.6-1-1.9-0.5-1.3-0.5-1.5-0.2-1.5zM25 59.6l0.1-0.2 0.5 0.3 0.5 0.5 1.2 1.4-1.9 0-0.3-1z"/>
<path fill="#fa9e3b" d="M43.6 0.5l0.5-0.5 2.6 0-3.5 4.5-1.5 1.7-1 0.8-0.5 0.2-0.4-0.2 0-0.5 0.1-0.5 0.3-0.9 0.5-0.9 1.5-2.2zM72.6 0.5l0.8-0.5 15.9 0-4 2-2.6 1-3 1-5.3 1.5-2 0.5-4.5 0.7-2 0.7-1.5 0.9-1.1 0.9-1.1 1.3-2.6 3.5-0.8 0.8-0.9 0.7-0.9 0.5-1.3 0.5-2.9 0.8-1.5 0.2-0.5-0.5 0-1 0.4-1.5 1.1-2.1 0.9-1.4 0.8-1 1-1 1.3-1 1.5-1 2-1 5.1-1.7 1.5-0.6 3-1.4zM48.6 19.5l0.7 0 0.4 0.5 1 4.6 0.1 1-0.1 1-0.4 0.8-2.2 2.2-0.5 1 0 0.5 0.2 0.5 0.8 1 1.5 1.5 0.6 1 0.1 0.5 0 1.1-0.7 2.9-0.3 1.7-0.1 0.3-0.4 0.6-0.5 0-1-0.5-1-0.9-0.5-0.6-0.5-0.7-0.6-1.3-0.2-1.1 0-1 0-1 0.2-1.3 0.9-2.7-0.1-1-0.8-2.2-0.2-1.3 0-1.5 0.2-1.5 0.6-1.4 0.8-1.1 1.2-1.1zM31.3 24.1l0.4-0.4 0.5-0.1 0.5 0.2 0.5 0.8 0.5 1.6 0.4 3.4 0 2.5-0.4 3.4-0.5 1.6-0.5 0.7-0.5 0.3-0.5-0.2-0.5-0.4-0.5-0.7-0.5-1-0.5-1.7-0.4-2.5 0.1-2 0.3-2.1 0.5-1.6 0.5-1.1zM16.3 24.6l0.3-0.2 0.5 0.6 0.4 2.1 0.1 2 0 3.5-0.1 2-0.4 2-0.5 0.6-0.5-0.2-0.5-0.7-0.5-1.1-0.5-2.3-0.1-1.8 0.1-2.3 0.5-2.2 0.5-1.3 0.5-0.7zM50.8 44.6l0.5-0.4 1.5 0.2 2.9 0.7 1.3 0.5 0.9 0.5 0.9 0.7 0.8 0.8 2.6 3.5 1.1 1.3 1.1 0.9 1.5 1 2 0.6 4.5 0.7 2 0.5 5.3 1.5 3 1 2.6 1 4 2-15.9 0-6-3.2-2.5-1.1-5.1-1.7-2-1-1.5-1-1.3-1-1-1-0.8-1-0.9-1.3-1.1-2.2-0.4-1.5zM39.8 54.6l0.4-0.2 0.5 0.2 1 0.9 1.5 1.7 3.5 4.4-2.6 0-0.4-0.3-1.5-1.6-1.5-2.2-0.5-1-0.3-0.9-0.1-0.5z"/>
<path fill="#fdb130" d="M76.6 0.5l0.4-0.5 9.8 0-2.3 1-1.5 0.6-2.6 0.6-2.5 0.4-1.6-0.1-0.4-0.2-0.2-0.3 0.1-0.5zM59.5 8l0.8 0 0.5 0.4 0.2 0.6-0.3 1-0.5 1-0.8 1.5-0.8 1-1.3 1.1-0.8 0.4-0.7 0.3-1 0.2-0.5 0-0.5-0.1-0.5-0.3-0.3-0.6 0-0.5 0.3-0.9 0.5-1.1 1-1.2 1-1 1.1-0.8 1.4-0.7zM47.2 23.1l0.6-0.3 0.5 0 0.2 0.3 0.3 0.2 0.4 0.8 0.2 1-0.1 1-0.2 0.5-0.4 0.5-0.4 0.3-0.5 0.2-0.5-0.1-0.5-0.4-0.3-0.5-0.2-1 0-0.5 0.3-1 0.2-0.5zM31.4 29.6l0.3-0.4 0.4 0.4 0.2 1-0.1 1.4-0.5 0.4-0.5-0.8-0.1-0.5 0.1-0.8zM46.7 34.6l0.6-0.5 0.5 0 0.5 0.2 0.5 0.4 0.3 0.4 0.2 0.5 0.1 1-0.1 0.8-0.5 1-0.5 0.4-0.5 0.1-0.5-0.3-0.5-0.6-0.2-0.4-0.3-1 0-0.5 0.2-1zM53.2 46.6l0.6-0.4 0.5-0.1 1 0.1 1.5 0.5 1.3 0.9 1.2 1.5 1 1.7 0.6 1.3 0.1 0.5-0.2 0.7-0.6 0.3-0.9 0-0.5-0.1-1-0.4-0.9-0.5-1.3-1-1.3-1.3-0.5-0.8-0.5-0.9-0.3-1 0-0.5zM76.3 59.1l1.1-0.1 1 0.1 3 0.5 3.1 1 2.3 1-9.8 0-0.4-0.5-0.8-1-0.1-0.5 0.2-0.2z"/>
</g></g>
<rect x="355.1" y="38.9" width="91.5" height="61.6" fill="none" stroke="#000" stroke-width="0.50" stroke-opacity="0.90"/>
<path d="M370.4 100.5v-0.9M370.4 38.9v0.9M355.1 49.2h0.9M446.6 49.2h-0.9M385.6 100.5v-0.9M385.6 38.9v0.9M355.1 59.5h0.9M446.6 59.5h-0.9M400.9 100.5v-0.9M400.9 38.9v0.9M355.1 69.7h0.9M446.6 69.7h-0.9M416.1 100.5v-0.9M416.1 38.9v0.9M355.1 80.0h0.9M446.6 80.0h-0.9M431.4 100.5v-0.9M431.4 38.9v0.9M355.1 90.3h0.9M446.6 90.3h-0.9" stroke="#000" stroke-width="0.35" stroke-opacity="0.8" fill="none"/>
<g fill="#262626"><text x="355.1" y="105.8" font-size="2.80" text-anchor="middle" font-weight="normal">0</text><text x="370.4" y="105.8" font-size="2.80" text-anchor="middle" font-weight="normal">0.5</text><text x="385.6" y="105.8" font-size="2.80" text-anchor="middle" font-weight="normal">1</text><text x="400.9" y="105.8" font-size="2.80" text-anchor="middle" font-weight="normal">1.5</text><text x="416.1" y="105.8" font-size="2.80" text-anchor="middle" font-weight="normal">2</text><text x="431.4" y="105.8" font-size="2.80" text-anchor="middle" font-weight="normal">2.5</text><text x="446.6" y="105.8" font-size="2.80" text-anchor="middle" font-weight="normal">3</text><text x="351.5" y="39.9" font-size="2.80" text-anchor="end" font-weight="normal">4</text><text x="351.5" y="50.2" font-size="2.80" text-anchor="end" font-weight="normal">3.5</text><text x="351.5" y="60.5" font-size="2.80" text-anchor="end" font-weight="normal">3</text><text x="351.5" y="70.7" font-size="2.80" text-anchor="end" font-weight="normal">2.5</text><text x="351.5" y="81.0" font-size="2.80" text-anchor="end" font-weight="normal">2</text><text x="351.5" y="91.3" font-size="2.80" text-anchor="end" font-weight="normal">1.5</text><text x="351.5" y="101.6" font-size="2.80" text-anchor="end" font-weight="normal">1</text></g>
<rect x="356.6" y="40.4" width="8.5" height="7.9" rx="0.8" fill="#fff" stroke="#000" stroke-width="0.6"/>
<text x="360.9" y="45.9" font-size="4.60" text-anchor="middle" font-weight="bold" fill="#000">(f)</text>
<g transform="translate(15.1 111.9)" clip-path="url(#pc)">
<rect width="91.5" height="61.6" fill="#352a87"/>
<g fill="none" stroke-linecap="round" filter="url(#bl)">
<path d="M61.6 30.8 L61.8 27.8 L62.3 24.8" stroke="#1f82e6" stroke-width="1.4" stroke-opacity="1.00"/>
<path d="M61.6 30.8 L61.8 33.8 L62.3 36.8" stroke="#1f82e6" stroke-width="1.4" stroke-opacity="1.00"/>
<path d="M66.5 22.2 L69.8 18.0 L73.2 13.9" stroke="#2496ec" stroke-width="1.4" stroke-opacity="1.00"/>
<path d="M66.5 39.4 L69.8 43.6 L73.2 47.7" stroke="#2496ec" stroke-width="1.4" stroke-opacity="1.00"/>
<path d="M68.3 30.8 L68.5 28.0 L68.9 25.7" stroke="#1e61d2" stroke-width="1.2" stroke-opacity="0.70"/>
<path d="M68.3 30.8 L68.5 33.6 L68.9 35.9" stroke="#1e61d2" stroke-width="1.2" stroke-opacity="0.70"/>
<path d="M73.7 21.3 L75.5 18.6" stroke="#1f82e6" stroke-width="1.4" stroke-opacity="1.00"/>
<path d="M73.7 40.3 L75.5 43.0" stroke="#1f82e6" stroke-width="1.4" stroke-opacity="1.00"/>
<path d="M79.0 15.9 L82.1 14.1" stroke="#1e64d4" stroke-width="1.3" stroke-opacity="0.80"/>
<path d="M79.0 45.7 L82.1 47.5" stroke="#1e64d4" stroke-width="1.3" stroke-opacity="0.80"/>
<path d="M81.7 20.8 L81.7 20.8" stroke="#1e61d2" stroke-width="1.5" stroke-opacity="0.70"/>
<path d="M81.7 40.8 L81.7 40.8" stroke="#1e61d2" stroke-width="1.5" stroke-opacity="0.70"/>
<path d="M74.6 30.8 L74.8 28.0" stroke="#254cb8" stroke-width="1.1" stroke-opacity="0.50"/>
<path d="M74.6 30.8 L74.8 33.6" stroke="#254cb8" stroke-width="1.1" stroke-opacity="0.50"/>
<path d="M60.3 22.1 L60.9 21.0" stroke="#2496ec" stroke-width="1.5" stroke-opacity="1.00"/>
<path d="M60.3 39.5 L60.9 40.6" stroke="#2496ec" stroke-width="1.5" stroke-opacity="1.00"/>
<path d="M61.3 20.2 L62.7 17.5 L64.3 14.6" stroke="#228eea" stroke-width="1.1" stroke-opacity="1.00"/>
<path d="M61.3 41.4 L62.7 44.1 L64.3 47.0" stroke="#228eea" stroke-width="1.1" stroke-opacity="1.00"/>
<path d="M55.2 30.8 L55.3 28.5 L55.7 26.2" stroke="#28bcd0" stroke-width="1.4" stroke-opacity="1.00"/>
<path d="M55.2 30.8 L55.3 33.1 L55.7 35.4" stroke="#28bcd0" stroke-width="1.4" stroke-opacity="1.00"/>
<path d="M53.9 22.2 L54.1 21.6" stroke="#9fdcf2" stroke-width="1.8" stroke-opacity="1.00"/>
<path d="M53.9 39.4 L54.1 40.0" stroke="#9fdcf2" stroke-width="1.8" stroke-opacity="1.00"/>
</g></g>
<rect x="15.1" y="111.9" width="91.5" height="61.6" fill="none" stroke="#000" stroke-width="0.50" stroke-opacity="0.90"/>
<path d="M30.4 173.6v-0.9M30.4 111.9v0.9M15.1 122.2h0.9M106.6 122.2h-0.9M45.6 173.6v-0.9M45.6 111.9v0.9M15.1 132.5h0.9M106.6 132.5h-0.9M60.9 173.6v-0.9M60.9 111.9v0.9M15.1 142.7h0.9M106.6 142.7h-0.9M76.1 173.6v-0.9M76.1 111.9v0.9M15.1 153.0h0.9M106.6 153.0h-0.9M91.3 173.6v-0.9M91.3 111.9v0.9M15.1 163.3h0.9M106.6 163.3h-0.9" stroke="#000" stroke-width="0.35" stroke-opacity="0.8" fill="none"/>
<g fill="#262626"><text x="15.1" y="178.8" font-size="2.80" text-anchor="middle" font-weight="normal">0</text><text x="30.4" y="178.8" font-size="2.80" text-anchor="middle" font-weight="normal">0.5</text><text x="45.6" y="178.8" font-size="2.80" text-anchor="middle" font-weight="normal">1</text><text x="60.9" y="178.8" font-size="2.80" text-anchor="middle" font-weight="normal">1.5</text><text x="76.1" y="178.8" font-size="2.80" text-anchor="middle" font-weight="normal">2</text><text x="91.3" y="178.8" font-size="2.80" text-anchor="middle" font-weight="normal">2.5</text><text x="106.6" y="178.8" font-size="2.80" text-anchor="middle" font-weight="normal">3</text><text x="11.5" y="112.9" font-size="2.80" text-anchor="end" font-weight="normal">4</text><text x="11.5" y="123.2" font-size="2.80" text-anchor="end" font-weight="normal">3.5</text><text x="11.5" y="133.5" font-size="2.80" text-anchor="end" font-weight="normal">3</text><text x="11.5" y="143.7" font-size="2.80" text-anchor="end" font-weight="normal">2.5</text><text x="11.5" y="154.0" font-size="2.80" text-anchor="end" font-weight="normal">2</text><text x="11.5" y="164.3" font-size="2.80" text-anchor="end" font-weight="normal">1.5</text><text x="11.5" y="174.6" font-size="2.80" text-anchor="end" font-weight="normal">1</text></g>
<rect x="17.9" y="113.4" width="8.5" height="7.9" rx="0.8" fill="#fff" stroke="#000" stroke-width="0.6"/>
<text x="22.1" y="118.9" font-size="4.60" text-anchor="middle" font-weight="bold" fill="#000">(c)</text>
<g transform="translate(125.6 111.9)" clip-path="url(#pc)">
<rect width="91.5" height="61.6" fill="#1d068e"/>
<g stroke="#000" stroke-width="0.30" stroke-opacity="0.60" stroke-linejoin="round">
<path fill="#370499" d="M0 0l91.5 0 0 61.6-91.5 0z"/>
<path fill="#4c02a1" d="M0 0l91.5 0 0 61.6-91.5 0zM81.9 18.5l-2.1 0.5-9 3.1-1.9 0.8-1.5 1-0.8 0.7-0.7 0.8-0.6 0.7-0.5 1-0.5 2 0 1.5 0 1.5 0.4 2 0.7 1.5 1.2 1.5 1.2 1 0.8 0.5 2.2 1 9 3 2.1 0.6 2.1 0.2 1-0.3 0.5-0.5 0.3-0.5 0.7-2.3 0.8-2.2 0.1-0.5 0-0.5-0.1-0.5-0.4-0.5-1.8-2-0.6-1-0.4-1 0-1 0.2-1 0.2-0.5 0.6-1 1.8-2 0.4-0.5 0.1-0.5 0-0.5-0.1-0.5-0.8-2.2-0.7-2.4-0.3-0.5-0.5-0.5-0.5-0.2-1 0z"/>
<path fill="#6001a6" d="M0 0l91.5 0 0 8.9-2 0.3-2.8 0.8-11.3 4.7-7.5 2.6-1.5 0.7-1 0.7-1.6 1.1-1.5 1.3-1.3 1.5-0.7 1-0.5 1-0.4 1.5-0.1 1.5-0.1 3 0.2 4.5 0.3 1.5 0.3 1 0.8 1.3 1 1.2 1.5 1.3 1.6 1.2 1.5 1 1.5 0.7 7.5 2.7 11.3 4.6 2.8 0.9 2 0.2 0 8.9-91.5 0z"/>
<path fill="#7401a8" d="M0 0l91.5 0 0 6.7-2 0.2-2 0.6-15.1 6.2-1.5 0.6-3 0.7-1.3 0.5-1.2 0.7-1.6 1-1.5 1.2-2.9 2.7-0.9 1-0.5 1-0.4 1-0.3 1.5 0 1.5 0 7.5 0.1 2 0.2 1 0.4 1 0.5 1 0.9 1 4 3.5 1.5 1.1 2 1 1 0.4 2.5 0.6 1.5 0.5 15.6 6.4 2 0.6 2 0.3 0 6.6-91.5 0z"/>
<path fill="#8707a6" d="M0 0l91.5 0 0 4.2-4.6 1.8-8.1 3.5-4.9 2.3-2 0.8-2 0.5-1 0.1-2.5 0-1 0.2-0.5 0.1-1.1 0.8-2.6 3.2-1.4 1.4-1 0.5-1.8 0.6-1 0.6-0.5 0.5-0.4 1-0.2 1 0 0.5 0.5 1.5 0 0.5 0.1 2.5 0 7.5-0.1 1-0.5 1.5 0 0.5 0.4 1.5 0.2 0.5 0.5 0.5 1 0.5 1.8 0.6 1 0.6 1.4 1.3 2.6 3.3 1.1 0.7 0.5 0.2 1 0.1 2.5 0 1 0.1 2 0.5 2 0.8 4.9 2.3 8.1 3.5 4.6 1.9 0 4.1-91.5 0z"/>
<path fill="#99159f" d="M0 0l91.5 0 0 3.1-6 2.7-13.1 5.7-1.5 0.4-1 0.2-4 0.2-1 0.2-0.5 0.2-0.6 0.3-0.6 0.5-0.8 1-1.6 2.3-0.7 0.7-0.8 0.7-1.5 0.7-3 0.6-1.1 0.5-0.5 0.6-0.4 0.5-0.2 0.5-0.1 1 0.3 0.8 1.3 1.7 0.5 1 0.1 1 0.1 1.5 0 4.5-0.1 1.5-0.1 1-0.5 1-1.3 1.6-0.3 0.9 0 0.5 0.3 1 0.4 0.5 0.5 0.5 1.1 0.5 3.5 0.9 1 0.5 0.5 0.3 1.2 1.3 1.8 2.6 1 0.9 0.6 0.3 0.5 0.3 1 0.2 4 0.1 1 0.2 1.5 0.5 13.1 5.6 6 2.8 0 3-91.5 0zM13.6 9.6l-1 1.4-1.5 2.8-1.5 3.4-1.1 2.7-1 3.6-0.5 2.9-0.2 4.2 0.2 4.6 0.5 2.9 1 3.6 1.1 2.7 1.5 3.4 1.5 2.9 1 1.4 0.2-0.5-0.2-1.3-2.3-7.7-1-4.5-0.5-3.5-0.2-3.5 0.2-3.5 0.5-4 1-4.6 2.3-7.6 0.2-1.4zM27.1 15.9l-1 1.2-1.5 2.5-1 2.3-0.5 1.5-0.5 2.1-0.1 1.1-0.3 2.5 0 2 0.1 2 0.3 3 0.5 2.1 0.5 1.6 1 2.2 1 1.8 1 1.4 0.5 0.6 0.6 0.3 0.1-0.5-0.1-1.2-1.4-5.3-0.8-4-0.2-1.5-0.1-2 0.1-3.5 0.4-3 0.7-3 1.3-5.1 0.1-1-0.1-0.4zM40.2 21.4l-0.5 0.6-0.5 0.8-0.5 1.2-0.3 1.6-0.2 2 0 6.5 0.1 1.5 0.4 2 0.5 1.3 0.5 0.8 0.5 0.5 0.5 0.3 0.5-0.1 0.2-0.3 0.2-0.5 0.1-1-0.1-1.5-0.6-4-0.1-2 0-2 0.7-4.5 0.1-1.5-0.1-1-0.4-0.8-0.5-0.1zM54.3 1l-1 0.4-1 0.6-1.9 1.5-1.1 1.1-1 1.2-1 1.4-0.5 0.9-0.5 1.4 0.5 0.3 1-0.9 3.5-4.1 3-3.3 0.1-0.5zM46.8 51.9l-0.5 0.2 0.5 1.4 1 1.7 1 1.3 1.5 1.5 2 1.6 1.5 0.9 0.5 0.2 0.1-0.1-0.1-0.5-3-3.2-3.5-4.1z"/>
<path fill="#aa2395" d="M3 0l13.8 0-1.7 3-2.5 5-2.5 5.6-1.6 3.9-1 3.2-0.5 2-0.5 2.8-0.2 3.1-0.1 2.5 0.3 4.5 0.5 3 0.5 2.4 1 3.2 1.6 3.9 2.5 5.6 2.5 5 1.7 2.9-13.8 0-3-7.6 0-46.4zM19.1 0l14.6 0-8.6 16.7-1.5 3.3-1 3-0.5 2.4-0.3 2.7-0.1 2.5 0.1 2.5 0.3 3.2 0.5 2.3 1 3 1.5 3.3 8.6 16.7-14.6 0-2-5.8-4.3-11.2-1-3-0.5-2-0.6-3-0.3-2.5-0.2-2 0.1-4 0.6-4 0.9-4.1 1-3 4.3-11.1zM35.6 0l17 0-2.3 1.9-2 2.1-1.5 1.8-1.6 2.4-1 2.1-0.5 1.7-0.5 2.5-0.1 1 0.1 0.6 0.5-0.2 1.5-1.5 1.1-1.3 3.2-4.6 2.8-3.1 3-2.7 2-1.5 1.9-1.2 32.3 0 0 2.4-6.5 3-12.6 5.3-2 0.5-4 0.4-1 0.2-1 0.3-0.8 0.4-0.8 0.6-0.8 0.9-1.7 2.4-1.2 1.1-1.3 0.7-2.8 0.8-1.2 0.5-1 0.7-0.6 0.9-0.2 1 0 0.5 0.3 0.7 1.2 1.8 0.5 1 0.2 0.5 0.3 2.5 0 3.5-0.2 1.5-0.3 1.5-0.5 1-1.2 1.7-0.3 0.8 0 0.5 0.2 1 0.3 0.5 0.5 0.5 0.7 0.5 1.3 0.5 2.8 0.8 1.5 0.9 1.3 1.3 1.8 2.5 0.5 0.5 0.9 0.7 1.1 0.4 1 0.3 4 0.4 2.5 0.6 2 0.8 12.1 5.1 5 2.4 0 2.3-32.3 0-1.9-1.2-2-1.4-3-2.7-2.8-3.2-3.2-4.5-1.1-1.3-1.5-1.5-0.5-0.3-0.1 0.6 0.1 1 0.5 2.5 0.5 1.7 1 2.1 1.6 2.4 1.5 1.9 2 2 2.3 1.9-17 0-1.1-2-1.1-2.5-2.7-8.1-3.3-8.4-1-3.5-0.4-2-0.3-2 0-2 0-2.5 0.3-2 0.4-2 1-3.5 3.3-8.5 2.7-8.1 1.1-2.5zM42.2 17.7l-1 0.8-1 1.2-1 1.5-0.5 1-0.5 1.6-0.3 1.8-0.1 2-0.1 2.5 0.1 5 0.3 2 0.3 1.5 0.3 0.8 1 1.9 1 1.3 1.5 1.4 0.5-0.4-0.1-2.5-0.4-3.5-0.8-4.5-0.1-2.5 0.2-2.5 0.7-4.1 0.4-3.4 0.1-2.6z"/>
<path fill="#b7318a" d="M3.8 0l11.8 0-2.5 5.3-2.5 5.7-2.1 5-1 3.1-1 4-0.4 2.5-0.2 2.5-0.1 3 0.2 4 0.5 3 0.5 2.7 1 3.4 1.6 4 1.5 3.6 2.5 5.6 2 4.2-11.8 0-3.8-9.2 0-43.1zM20.1 0.5l0.2-0.5 12 0-1.6 3.3-3.2 7.2-3.4 7.1-1 2.5-1 3.4-0.3 1.6-0.3 2.5-0.1 3 0.1 3 0.3 2.5 0.3 2 1 3.4 1 2.5 3.4 7.1 3.2 7.3 1.6 3.2-12 0-7-17-1-3-1-4-0.6-4-0.1-4 0.3-3.5 0.8-4 1.1-3.6 1.1-3zM36.7 0.5l0.3-0.5 14.5 0-2.7 2.5-2 2.3-1.6 2.2-1.5 2.7-1 2.6-1.3 3.7-0.4 1-1.8 3-1 2.3-0.6 2.8-0.1 2 0 2.5 0 4.5 0.1 2.5 0.5 2.5 0.6 1.5 0.5 1.1 1.8 2.9 0.4 1 1.8 5.1 1 2.2 1 1.7 1.1 1.6 1.6 1.9 1.9 2 1.7 1.5-14.5 0-1.5-2.5-1.1-2.5-3.2-8.4-3.3-7.6-1.1-3.5-0.4-1.5-0.3-2-0.2-3 0.1-1.5 0.2-2 0.7-3 1.2-3.5 3.1-7.2 3.2-8.4 1.1-2.5zM59.8 0.5l0.8-0.5 30.9 0 0 1.8-7.5 3.5-9.6 4-2.5 0.9-2 0.5-4 0.5-1 0.3-1.1 0.4-0.9 0.6-0.6 0.6-2.3 2.9-1.2 1.2-1.5 0.8-3.2 1-1 0.5-0.6 0.5-0.4 0.6-0.3 0.5-0.2 1 0.1 0.5 0.4 1 1.4 2 0.5 1.5 0.2 2 0 3.5-0.1 1.5-0.4 1.5-0.6 1-1 1.5-0.3 0.7-0.2 0.8 0.2 1 0.5 0.8 0.5 0.5 1.3 0.7 3.7 1.3 1 0.6 1.2 1.1 2.3 3 0.6 0.5 0.9 0.6 1.1 0.5 1 0.2 4 0.6 2 0.4 2.5 1 9.6 3.9 7.5 3.5 0 1.8-30.9 0-2.8-1.6-2-1.4-2-1.7-2-1.9-1.2-1.4-1.5-2-4.7-7.5-0.8-2-1.1-5-0.6-3-0.3-3 0.1-2 0.3-2.5 1.5-6.6 0.4-1.5 1-2 3.2-5 1.3-2 1.6-2 1.8-1.9 2-1.7 2-1.5z"/>
<path fill="#c5407e" d="M4.4 0l10.5 0-2.3 5.1-2.5 5.9-1.6 3.9-1 3.1-1 3.5-0.6 3.1-0.3 3.5-0.1 3 0.1 3 0.4 3.5 0.5 2.6 1 3.4 1 3.2 1.6 3.8 2.5 5.9 2.3 5.1-10.5 0-2.6-6-1.8-4.5 0-40.6 1.8-4.5zM21.1 0l10.4 0-1.3 2.7-3.3 7.8-2.8 6.1-1.5 3.9-0.6 2.1-0.5 2.5-0.3 2.5-0.1 3 0.1 2.5 0.3 3 0.4 2.5 0.7 2.5 1.5 3.9 2.8 6.1 3.3 7.9 1.3 2.6-10.4 0-5.7-13-1.7-4-1.4-4-0.5-2-0.5-2.5-0.4-3.5 0-3.5 0.5-4 0.8-3.5 0.8-2.6 1.3-3.5zM37.5 0.5l0.3-0.5 12.9 0-2.4 2.3-2 2.4-1.7 2.3-1.6 3-2.1 5.5-2.2 4.5-0.8 2.1-0.3 1.5-0.2 1.5-0.2 4 0 5 0.2 2.5 0.3 2.2 0.8 2.3 2.2 4.5 2.3 6 1.3 2.5 1.3 2 1.6 2 1.6 1.7 1.9 1.8-12.9 0-1.5-2.5-1.4-3-3.2-8-2.8-6-0.9-2-0.7-2-0.5-2-0.5-3-0.1-2 0-1.5 0.4-3 0.7-3 1.1-3 3.8-8.1 2.9-7.5 1.2-2.5zM60.9 0.5l1-0.5 29.6 0 0 1.4-5 2.4-3 1.3-9.1 3.7-2 0.8-2.5 0.6-4 0.6-1 0.3-1.1 0.4-0.8 0.5-0.7 0.6-0.8 0.9-1.7 2.2-0.8 0.8-0.6 0.5-1.6 0.8-3.4 1.2-0.8 0.5-0.6 0.5-0.3 0.6-0.3 0.5-0.1 1 0.1 0.5 0.4 1 1.4 2 0.4 1 0.3 2 0.1 3.5-0.1 1.5-0.3 1.5-0.4 1-1.4 2.1-0.2 0.4-0.3 1 0.1 1 0.3 0.5 0.3 0.5 0.6 0.5 1.2 0.7 3 1 1.6 0.8 0.6 0.5 0.8 0.8 1.7 2.2 0.8 0.9 0.7 0.6 0.8 0.5 1.1 0.5 1 0.2 4 0.7 2.5 0.6 2 0.7 9.1 3.7 3 1.4 5 2.3 0 1.4-29.6 0-3.1-1.6-2.5-1.7-2.5-1.9-1.8-1.8-1.7-2-1.4-2-4-7-0.9-2-1-3.5-0.9-4-0.3-2.5 0-2 0.3-2 0.9-4 1-3.6 0.9-2 3.1-5.5 1.6-2.5 1.7-2.2 2-2.1 2-1.6 2.5-1.8z"/>
<path fill="#d14e72" d="M5 0l9.3 0-4.9 11.5-1.5 4-1 3-0.7 3.1-0.6 3-0.3 3-0.1 3.5 0.1 3 0.3 3 0.6 3 0.7 3 1 3 1.5 4 4.9 11.5-9.3 0-2.5-5.5-2.5-6.1 0-38.3 2.5-6.2zM21.5 0.5l0.3-0.5 8.9 0-1.4 3-3 7.5-2.7 6.3-1.2 3.2-0.7 2.6-0.4 2.5-0.3 2.5-0.2 3 0.1 3 0.4 3 0.4 2.5 0.7 2.5 1.2 3.2 2.7 6.3 3 7.5 1.4 3-8.9 0-5.2-11.2-2.5-5.9-1.6-4.4-0.5-2-0.5-2.5-0.3-3.5 0-3.5 0.5-3.5 0.8-3.5 1.1-3.2 1.5-3.7zM38.2 0.5l0.3-0.5 11.4 0-2.4 2.5-2.1 2.5-1.6 2.5-1.4 2.5-2.2 5.5-1.8 4-0.7 2.1-0.3 1.5-0.3 1.5-0.1 4 0 5.5 0.1 2.5 0.4 2.5 0.7 2.5 2 4.5 2 5 1.6 3 1.3 2 1.5 2 1.7 1.9 1.6 1.6-11.4 0-1.3-2.1-1.2-2.4-3.7-9-3.6-7.4-1.1-2.6-0.8-3-0.3-2.5 0-3 0.3-3 0.8-3 0.6-1.5 1-2.3 3.3-6.8 3.3-8 1.2-2.5zM62.1 0.5l1-0.5 28.4 0 0 1-7.5 3.5-10.1 4.1-3 0.9-4.5 0.8-2 0.6-1.1 0.5-1 0.8-0.8 0.8-2 2.5-1.2 1.2-1.6 0.8-3.4 1.3-1 0.6-0.5 0.4-0.5 0.7-0.2 0.6-0.1 1 0.1 0.5 0.4 1 1.4 2 0.4 1 0.4 2 0.1 3-0.2 2-0.3 1.5-0.4 1-1.4 2-0.4 1-0.1 1 0.3 1 0.5 0.8 1 0.7 1.5 0.7 2.5 0.9 1.5 0.8 1.2 1.1 2.5 3 0.8 0.8 1 0.6 1.1 0.4 1 0.3 4.5 0.8 2 0.5 2.5 1 6.5 2.6 4.6 1.9 5.5 2.7 0 0.9-28.4 0-3.8-1.9-3-1.9-2.5-2-1.8-1.7-1.6-2-1.3-2-4.4-8.1-1-2.6-1-3.4-0.6-2.9-0.1-2 0.1-2 0.4-2.5 0.7-2.7 1.2-3.3 0.8-1.9 3.9-7.2 1.3-2 1.4-1.7 2-2 2.5-2 2.5-1.6z"/>
<path fill="#dc5d67" d="M5.3 0.5l0.3-0.5 8 0-4.8 12-1.1 3-1 3-0.9 3.6-0.5 3-0.3 3-0.1 3 0.1 3 0.3 3.5 0.5 3 0.9 3.5 1 3 1.1 3 4.8 12-8 0-3.1-6.6-2.5-6.2 0-36 2.5-6.2zM22.5 0l7.4 0-1.5 3.5-2.3 6.1-2.8 6.9-1.2 3.5-0.7 2.6-0.4 2.5-0.3 2.5-0.1 3 0.1 3 0.2 2.5 0.4 2.5 0.6 2.5 1.4 4 2.8 7 2.3 6 1.5 3.5-7.4 0-5.4-11.2-3-6.8-1-2.8-0.5-1.7-0.6-2.5-0.4-2.5-0.2-3 0.2-3.5 0.5-3 1-3.7 1-2.8 1.5-3.6 3.5-7.5zM38.9 0.5l0.3-0.5 10 0-2.4 2.5-2 2.5-1.9 3-1.3 2.5-3.3 8-0.8 2.6-0.6 3-0.1 3.5 0 7 0.1 2.5 0.3 2.5 0.7 2.5 3.5 8.5 1.5 3 1.2 2 1.5 2 1.7 2 1.9 2-10 0-1.5-2.4-1-1.9-3.8-9.2-3.2-6.1-1-2-1-2.7-0.7-2.7-0.3-3 0-2.5 0.4-2.8 0.8-2.7 1.3-3 3.7-7.1 3.8-9.1 1-1.9zM63.3 0.5l1.1-0.5 27.1 0 0 0.6-7.2 3.4-10.1 4-3.3 1.1-5 0.9-1 0.3-1.1 0.4-1 0.7-1 0.8-2.5 3.1-1.4 1.2-1.6 0.9-3.5 1.3-0.7 0.3-0.6 0.5-0.4 0.5-0.3 0.6-0.1 0.5 0 1 0.3 1 1.6 2.5 0.6 1.5 0.3 2 0.1 2.5-0.2 2-0.3 1.5-0.5 1-1.3 2-0.5 1-0.1 1 0.1 1 0.3 0.5 0.4 0.5 0.8 0.6 1 0.5 3.5 1.3 1.5 0.9 1 1 2.5 3 1 0.9 1 0.6 1.1 0.5 1.5 0.4 5 0.9 1.5 0.5 2.6 0.9 7.6 3 3.4 1.5 5 2.5 0 0.5-27.1 0-4.1-1.9-3.5-2.1-2.5-1.8-2-2-1.4-1.7-1.4-2-0.8-1.5-1.9-4-2.1-3.8-1-2.4-1-3.4-0.4-2.4-0.1-2 0.2-2 0.3-2 1-3.3 1-2.5 2.1-3.8 1.9-4 0.8-1.5 1.4-2 1.4-1.7 2-1.9 2.5-1.9 2.5-1.5z"/>
<path fill="#e66c5c" d="M6 0.5l0.3-0.5 6.6 0-4.6 12-1.1 3-0.9 3-0.8 3.6-0.5 3-0.3 3-0.1 3 0 3 0.3 3 0.5 3 0.9 4 0.9 3 1.1 3 4.6 12-6.6 0-1.8-3.4-1.5-3.2-1.5-3.5-1.5-3.9 0-33.5 1.5-3.9 1.5-3.5zM23.1 0.5l0.3-0.5 5.6 0-1.2 3-2.7 7.6-2.3 5.9-1 3-0.5 2.1-0.6 3-0.3 3-0.1 3 0.1 3.5 0.3 3 0.6 3 0.5 2 1 3 2.3 6 2.7 7.5 1.2 3-5.6 0-4.8-9.2-2.5-5.2-1.5-3.4-1-2.7-0.9-3-0.6-2.5-0.2-2-0.2-3 0.3-3.5 0.6-3.2 1-3.4 1-2.6 2-4.5 3.5-7.1zM39.7 0.5l0.3-0.5 8.4 0-2.8 3-2.2 3-1.5 2.5-1.5 3-2.3 6-0.8 2.5-0.4 1.6-0.2 2-0.2 3.5 0 8 0.1 2.5 0.4 3 0.9 3 2.5 6.5 1 2 1.1 2 0.9 1.5 1.5 2 1.6 2 1.9 2-8.4 0-1.3-2-1.5-2.8-2.7-6.7-1.2-2.5-3.1-5.5-1-1.9-1.1-2.6-0.5-1.5-0.5-2.1-0.2-2.9 0.1-2.5 0.5-2.5 0.7-2.3 0.5-1.3 1-2.1 2.8-4.9 1.1-2 0.9-2 2.7-6.6 1-2zM64.7 0.5l1.1-0.5 25.7 0 0 0.1-4.8 2.4-3.3 1.5-9.2 3.5-3.3 1-5 1-1 0.3-1.1 0.5-1 0.6-1 0.8-0.7 0.8-2 2.5-1.3 1.2-1.6 0.8-3.9 1.5-1 0.5-0.5 0.5-0.3 0.5-0.2 0.6-0.1 0.5 0.1 1 0.7 1.5 1.3 2 0.5 1 0.5 2 0.1 2.5-0.1 2-0.5 2-0.5 1-1.3 2-0.7 1.5-0.1 1 0.3 1 0.3 0.5 0.5 0.5 0.9 0.5 4 1.5 1.6 0.9 1.3 1.1 2 2.5 0.7 0.8 1 0.9 1 0.6 1.1 0.4 1.5 0.5 5 0.9 4.2 1.4 8.9 3.5 7 3.4 0 0.1-25.7 0-4.4-2-3.1-1.6-2.5-1.6-2.2-1.8-1.8-1.9-1.2-1.6-0.9-1.5-0.9-2-1.5-3.5-2.1-3.4-1-2-1-2.7-0.6-2.9-0.2-2.5 0.1-1.5 0.2-1.4 0.5-2 1-2.8 1-2 2.1-3.4 1.5-3.5 0.9-2 0.9-1.5 1.2-1.5 1.5-1.7 1.5-1.3 2-1.4 1.8-1.1 2.8-1.5z"/>
<path fill="#ee7b51" d="M6.8 0.5l0.3-0.5 4.9 0-5.2 14.5-1 3.5-0.5 2-0.6 3.6-0.4 4-0.1 4 0.1 3.5 0.6 4.5 0.4 2 0.9 3.5 1.1 3.5 4.7 13-4.9 0-1.6-2.9-2-4.1-2-4.6-1.5-3.9 0-30.6 1.5-3.9 2-4.6 1.5-3.1zM24.4 0.5l0.3-0.5 3 0-3.1 9.9-2.7 7.6-0.9 3.6-0.6 3-0.2 2.5-0.2 3.5 0.1 3.5 0.3 4 0.5 2.5 0.5 2 0.9 3 2.8 8.1 2.6 8.4-3 0-2.6-4.2-3-5.5-3-5.9-2-4.7-1-3.1-0.5-2.1-0.3-2-0.2-2 0-3 0.5-3.5 0.5-2.2 1-3.1 1.5-3.6 3-6 3-5.6zM40.7 0.5l0.3-0.5 6.3 0-1.8 2-1.6 2-1.4 2-1.5 2.5-1.1 2-0.9 2-1.1 3-0.6 2-0.8 3.6-0.2 3-0.1 12 0.2 3.5 0.4 2.5 0.7 2.5 1 3 1.4 3.5 1.1 2 1.9 3 2.2 3 2.2 2.5-6.3 0-0.3-0.5-1.5-2.2-1-2-1-2.3-1.7-4.5-1-2-1.1-2-2.7-4-1.5-2.7-0.5-1.2-0.8-2.1-0.3-1.5-0.3-2-0.1-2 0.2-2.5 0.4-2 0.9-2.7 1.5-3 3.2-4.9 1.1-2 1-2 1.7-4.5 1-2.3 1-1.9zM66.3 0.5l1.2-0.5 23.2 0-3.9 2-3.3 1.5-8 3-3.6 1.2-1.5 0.3-4 0.8-2 0.7-1.6 0.8-1 0.8-1 1.1-2 2.5-1.5 1.3-0.9 0.5-1.1 0.5-4 1.3-1.1 0.7-0.4 0.5-0.2 0.5 0 1.1 0.5 1.5 0.5 1 1.7 2.5 0.4 1 0.3 1.5 0.1 2.5-0.2 2.5-0.4 1.5-0.5 1-1.4 2-0.7 1.5-0.3 1-0.1 0.5 0.1 0.5 0.2 0.5 0.4 0.5 1.1 0.7 4 1.4 1.1 0.4 0.9 0.5 1.5 1.3 2 2.5 1 1.1 1 0.8 1 0.6 1.1 0.5 1.5 0.5 4 0.7 2 0.5 4.4 1.5 6.7 2.5 3.3 1.5 3.9 2-23.2 0-5.6-2.5-3.1-1.5-2.5-1.4-2-1.6-1.6-1.5-1.4-1.8-1-1.6-0.7-1.6-0.7-2-0.5-2-0.4-1-0.4-0.5-1.3-1.5-1.1-1.4-1-1.9-0.5-1.2-0.7-2.5-0.3-2.5 0-2.4 0.5-2.6 1-2.7 1-1.9 1.1-1.4 1.3-1.6 0.4-0.5 0.4-1 1-3.5 0.6-1.5 0.8-1.5 1.1-1.5 1.3-1.5 1.6-1.4 1.5-1.1 1.6-1 1.9-1z"/>
<path fill="#f58c46" d="M8.4 0.5l0.5-0.5 1.3 0-0.1 1.5-1.1 4-3.2 10-1.1 4.5-0.5 3.1-0.4 3.5-0.1 3 0 3 0.1 2.5 0.3 3 0.7 4 0.5 2 1 3.5 2.2 7 1.1 3.3 0.5 2.2 0.1 1.5-1.3 0-0.4-0.3-1-1.3-1.5-2.4-1.5-2.8-1.5-3.1-1.5-3.5-1.5-3.9 0-26.9 2-5.1 2.5-5.4 2-3.7 1-1.5zM42.7 0l2.9 0-4.9 5.8-0.5 0.6-0.5 0.2-0.1-0.6 0.1-0.5 0.5-1.4 1-1.9zM68.4 0.5l1.1-0.5 20.1 0-5.1 2.5-2.4 1-4.2 1.5-6 1.9-5 1-1.5 0.4-1 0.4-1.1 0.5-1.5 1.2-1 1-2.5 3.1-1 0.9-1 0.6-2 0.8-2.5 0.5-1 0.1-0.5-0.2-0.2-0.2-0.3-0.5 0-1 0.3-1.5 0.5-1.5 1.2-2 1-1.3 1.2-1.2 1.9-1.5 2.4-1.5zM23.6 5.5l0.4 0.5 0.1 0.5-0.1 1-0.4 2-2.3 8-1 4.6-0.5 4-0.2 5 0.2 4.5 0.5 4 1 4.5 2.3 8 0.4 2 0.1 1-0.1 0.5-0.4 0.5-0.5-0.2-0.5-0.5-1-1.3-1-1.5-3-5.2-2.5-5-1-2.5-1-3.5-0.5-3.3-0.1-2 0.1-2.5 0.5-3.3 1-3.5 1-2.5 2.5-5.1 3-5.2 1-1.5 1-1.2 0.5-0.5zM35.2 15.5l0.5-0.2 0.2 0.2 0.2 0.5 0.1 0.5-0.3 5.1-0.1 2.5 0.2 6.5-0.2 8 0.4 6.5-0.1 0.5-0.2 0.5-0.2 0.2-0.5-0.2-0.5-0.4-2-2.1-1.5-1.9-1.5-2.4-1-2.2-0.5-1.5-0.5-2.4-0.2-2.1 0.1-2.5 0.3-1.5 0.7-2.5 0.6-1.3 1-1.9 1.5-2.2 2-2.3zM47.3 21.1l0.5-0.2 0.5 0.1 0.5 0.5 3 4.3 0.5 1 0.3 1.3 0.2 1 0.1 1.5-0.2 2.5-0.3 1.5-0.5 1-3.1 4.6-0.5 0.4-0.5 0.1-0.5-0.1-1-0.7-1.1-1.2-0.5-0.9-1-2.2-0.4-1.5-0.2-1.5-0.2-1.5 0.1-1.5 0.2-1.7 0.5-1.8 0.5-1.3 0.5-1 1.1-1.5 1-0.9zM50.1 44.6l0.2-0.2 0.5-0.1 1 0 2.5 0.6 2 0.7 1 0.6 1 0.9 2.5 3.1 1 1.1 1.5 1.1 1.1 0.6 1 0.4 1.5 0.4 5 0.9 6 1.9 4.2 1.5 2.4 1 5.1 2.5-20.1 0-11.1-5-2.5-1.5-1.6-1.2-1-0.9-1-1.2-1-1.5-0.7-1.2-0.5-1.5-0.3-1.5 0-1zM39.7 55.1l0-0.1 0.5 0.3 0.5 0.5 4.9 5.8-2.9 0-1.5-2.1-0.9-1.9-0.6-1.5z"/>
<path fill="#fa9e3b" d="M71.1 0.5l0.9-0.5 16 0-4.1 2-2.5 1-3.1 1-5.4 1.5-2.6 0.5-3.9 0.5-1 0.3-1 0.4-1.1 0.6-1.5 1.3-1.3 1.4-2.2 3-1 1-0.7 0.5-0.9 0.5-0.9 0.4-1.5 0.3-1 0-0.5-0.2-0.5-0.4-0.2-0.6 0-1 0.2-1 0.5-1 0.5-1 1-1.2 1-1.1 1-0.8 1.5-1 1.8-0.9 1.3-0.5 3.4-1.1 1.6-0.6 3-1.5zM4.7 10.5l0.3-0.4 0.5 0.4 0 0.5-0.5 2.7-0.8 3.8-0.5 3.6-0.5 4.5-0.2 5.5 0.2 5 0.5 4.5 0.5 3.5 0.8 3.8 0.5 2.7 0 0.5-0.5 0.4-1-1.3-1.5-2.7-1.5-3.4-1-2.7 0-21.1 1-2.8 1.5-3.3 1.5-2.8zM19.9 14l0.2 0 0.1 0 0.2 0.5 0 1-1.1 8.6-0.1 3-0.1 4 0.1 3.5 0.1 3 1.1 8.5 0 1-0.3 0.6-0.5-0.2-0.5-0.4-1-1.3-1.5-2.3-1.5-3-1-2.7-0.5-1.9-0.5-2.8-0.1-2 0.1-2 0.4-3 0.6-2.2 0.5-1.5 1.5-3.3 1.5-2.5 1.5-2 0.5-0.5zM33.1 19.5l0.6-0.2 0.5 0.1 0.5 0.6 0.1 0.6 0.4 2.4 0.3 6.6 0 4.5-0.3 4.5-0.2 1.5-0.3 1.5-0.5 0.6-0.5 0.1-0.5-0.1-0.5-0.3-1-0.9-1-1.3-1-1.6-1-2.4-0.3-1.1-0.3-1.5-0.2-2 0.1-1.5 0.2-1.6 0.5-2 0.5-1.4 1-1.9 1-1.5 1-1zM46.9 22.6l0.4-0.2 0.5 0 0.5 0.2 1 0.8 1.5 1.7 0.6 1 0.5 1 0.4 1.1 0.2 1.9 0 1.5-0.2 1.5-0.2 1-0.4 1-0.9 1.5-1.5 1.7-1 0.8-0.5 0.2-0.5-0.1-0.5-0.2-0.5-0.3-1.1-1.1-0.5-0.8-0.5-1.1-0.5-1.5-0.4-2.6 0-1 0.1-1.5 0.3-1.7 0.5-1.4 1-1.9 1.1-1.2zM51.8 45.6l1-0.2 1.5 0.2 1.4 0.5 1.1 0.6 0.5 0.4 1 1 2.2 3 1.3 1.5 1.5 1.3 1.1 0.6 1 0.4 1 0.2 3.9 0.5 2.6 0.5 5.4 1.5 3.1 1 2.5 1 4.1 2-16 0-6.1-3.3-2.1-0.9-5.2-1.8-2-1-1.5-1-1.3-1.2-1-1.1-0.5-0.7-0.8-1.5-0.3-1-0.1-1 0.2-1z"/>
<path fill="#fdb130" d="M75.2 0.5l0.4-0.5 9.9 0-2.3 1-1.4 0.5-1.9 0.5-3 0.5-1.6 0-0.4-0.1-0.4-0.4 0-0.5zM57.7 8.5l0.7 0 0.4 0.4 0.1 0.6-0.1 0.5-0.4 1-1 1.5-1 1-1.1 0.7-1 0.2-0.5-0.1-0.5-0.3-0.2-0.5 0.1-1 0.4-1 0.7-0.9 1-0.9 1-0.7zM16.5 22.1l0.6-0.5 0.5 0.2 0.4 1.3 0.1 1.5 0 12.6-0.1 1.4-0.3 1-0.1 0.2-0.5 0.2-0.5-0.3-0.5-0.7-1-2-0.5-1.5-0.3-1.4-0.2-1.3-0.1-1.2 0.1-2.8 0.5-2.6 0.5-1.6 0.5-1.1 0.5-0.9zM31.9 22.6l0.8-0.3 0.5 0 0.5 0.5 0.1 0.3 0.4 0.9 0.3 1.6 0.2 1.1 0.2 2.4 0 2-0.1 2.5-0.1 1.4-0.4 2.1-0.1 0.6-0.5 1.1-0.5 0.5-0.5 0.1-0.5-0.2-0.5-0.3-1-1-0.5-0.8-0.5-1-0.5-1.3-0.4-1.7-0.2-1.5 0.1-2.3 0.6-2.7 0.4-1.1 1-1.7 0.5-0.6zM46.7 24.1l0.6-0.2 0.5-0.1 0.5 0.1 1 0.6 0.5 0.5 1 1.2 0.5 0.8 0.5 1.6 0.1 1 0.1 1.5-0.1 1.5-0.1 0.5-0.5 1.5-0.5 0.9-1 1.2-1 0.8-0.5 0.2-0.5 0.1-0.5 0-0.5-0.2-0.5-0.3-1.1-1.2-0.5-0.9-0.5-1.3-0.4-2.3 0.1-2 0.4-2 0.4-1.2 0.5-0.9 0.6-0.7zM0.5 27.1l0-0.2 0.5-0.2 0.2 1.9 0 4-0.2 2.4-0.5-0.3-0.5-2.4 0-3zM53.3 47.6l0.5-0.3 0.5 0 0.5 0 1 0.4 1 0.8 1 1.1 0.6 1 0.4 1 0.1 0.5-0.1 0.7-0.5 0.3-1-0.1-1-0.4-1.5-1.1-1-1.1-0.5-1-0.2-0.8 0-0.5zM75.3 59.1l1.9 0 2.8 0.5 3.2 1 2.3 1-9.9 0-0.8-1-0.3-0.5 0-0.5 0.4-0.3z"/>
<path fill="#fdc527" d="M46.8 26.6l0.5-0.2 0.5-0.1 0.5 0 0.5 0.2 0.5 0.4 0.5 0.5 0.5 0.9 0.3 1.3 0.1 1 0 1-0.4 1.7-0.5 0.9-0.5 0.6-0.5 0.3-0.5 0.2-0.5 0.1-0.5-0.1-0.5-0.3-0.5-0.4-0.7-1-0.4-1.5-0.1-1.5 0.2-1.5 0.5-1.3 0.5-0.7zM31.5 28.1l0.2-0.1 0.5 0 0.4 0.6 0.2 1 0.1 1 0 1-0.2 1.3-0.5 0.7-0.5 0.1-0.5-0.5-0.3-0.6-0.2-0.6-0.1-0.9 0.1-1.5 0.5-1.2z"/>
</g></g>
<rect x="125.6" y="111.9" width="91.5" height="61.6" fill="none" stroke="#000" stroke-width="0.50" stroke-opacity="0.90"/>
<path d="M140.8 173.6v-0.9M140.8 111.9v0.9M125.6 122.2h0.9M217.1 122.2h-0.9M156.1 173.6v-0.9M156.1 111.9v0.9M125.6 132.5h0.9M217.1 132.5h-0.9M171.3 173.6v-0.9M171.3 111.9v0.9M125.6 142.7h0.9M217.1 142.7h-0.9M186.6 173.6v-0.9M186.6 111.9v0.9M125.6 153.0h0.9M217.1 153.0h-0.9M201.8 173.6v-0.9M201.8 111.9v0.9M125.6 163.3h0.9M217.1 163.3h-0.9" stroke="#000" stroke-width="0.35" stroke-opacity="0.8" fill="none"/>
<g fill="#262626"><text x="125.6" y="178.8" font-size="2.80" text-anchor="middle" font-weight="normal">0</text><text x="140.8" y="178.8" font-size="2.80" text-anchor="middle" font-weight="normal">0.5</text><text x="156.1" y="178.8" font-size="2.80" text-anchor="middle" font-weight="normal">1</text><text x="171.3" y="178.8" font-size="2.80" text-anchor="middle" font-weight="normal">1.5</text><text x="186.6" y="178.8" font-size="2.80" text-anchor="middle" font-weight="normal">2</text><text x="201.8" y="178.8" font-size="2.80" text-anchor="middle" font-weight="normal">2.5</text><text x="217.1" y="178.8" font-size="2.80" text-anchor="middle" font-weight="normal">3</text><text x="122.0" y="112.9" font-size="2.80" text-anchor="end" font-weight="normal">4</text><text x="122.0" y="123.2" font-size="2.80" text-anchor="end" font-weight="normal">3.5</text><text x="122.0" y="133.5" font-size="2.80" text-anchor="end" font-weight="normal">3</text><text x="122.0" y="143.7" font-size="2.80" text-anchor="end" font-weight="normal">2.5</text><text x="122.0" y="154.0" font-size="2.80" text-anchor="end" font-weight="normal">2</text><text x="122.0" y="164.3" font-size="2.80" text-anchor="end" font-weight="normal">1.5</text><text x="122.0" y="174.6" font-size="2.80" text-anchor="end" font-weight="normal">1</text></g>
<rect x="127.1" y="113.4" width="8.5" height="7.9" rx="0.8" fill="#fff" stroke="#000" stroke-width="0.6"/>
<text x="131.3" y="118.9" font-size="4.60" text-anchor="middle" font-weight="bold" fill="#000">(d)</text>
<g transform="translate(245.1 111.9)" clip-path="url(#pc)">
<rect width="91.5" height="61.6" fill="#352a87"/>
<g fill="none" stroke-linecap="round" filter="url(#bl)">
<path d="M61.1 30.8 L61.2 28.5 L61.8 26.2" stroke="#1e72dd" stroke-width="1.4" stroke-opacity="1.00"/>
<path d="M61.1 30.8 L61.2 33.1 L61.8 35.4" stroke="#1e72dd" stroke-width="1.4" stroke-opacity="1.00"/>
<path d="M66.5 22.2 L69.8 18.0 L73.2 13.9" stroke="#2496ec" stroke-width="1.4" stroke-opacity="1.00"/>
<path d="M66.5 39.4 L69.8 43.6 L73.2 47.7" stroke="#2496ec" stroke-width="1.4" stroke-opacity="1.00"/>
<path d="M68.3 30.8 L68.5 28.0 L68.9 25.7" stroke="#1e61d2" stroke-width="1.2" stroke-opacity="0.70"/>
<path d="M68.3 30.8 L68.5 33.6 L68.9 35.9" stroke="#1e61d2" stroke-width="1.2" stroke-opacity="0.70"/>
<path d="M73.7 21.3 L75.5 18.6" stroke="#1f82e6" stroke-width="1.4" stroke-opacity="1.00"/>
<path d="M73.7 40.3 L75.5 43.0" stroke="#1f82e6" stroke-width="1.4" stroke-opacity="1.00"/>
<path d="M79.0 15.9 L82.1 14.1" stroke="#1e64d4" stroke-width="1.3" stroke-opacity="0.80"/>
<path d="M79.0 45.7 L82.1 47.5" stroke="#1e64d4" stroke-width="1.3" stroke-opacity="0.80"/>
<path d="M81.7 20.8 L81.7 20.8" stroke="#1e61d2" stroke-width="1.5" stroke-opacity="0.70"/>
<path d="M81.7 40.8 L81.7 40.8" stroke="#1e61d2" stroke-width="1.5" stroke-opacity="0.70"/>
<path d="M74.6 30.8 L74.8 28.0" stroke="#254cb8" stroke-width="1.1" stroke-opacity="0.50"/>
<path d="M74.6 30.8 L74.8 33.6" stroke="#254cb8" stroke-width="1.1" stroke-opacity="0.50"/>
<path d="M60.3 22.1 L60.9 21.0" stroke="#2496ec" stroke-width="1.5" stroke-opacity="1.00"/>
<path d="M60.3 39.5 L60.9 40.6" stroke="#2496ec" stroke-width="1.5" stroke-opacity="1.00"/>
<path d="M61.3 20.2 L62.7 17.5 L64.3 14.6" stroke="#228eea" stroke-width="1.1" stroke-opacity="1.00"/>
<path d="M61.3 41.4 L62.7 44.1 L64.3 47.0" stroke="#228eea" stroke-width="1.1" stroke-opacity="1.00"/>
<path d="M54.8 30.8 L54.9 28.6 L55.2 26.3" stroke="#28bcd0" stroke-width="1.4" stroke-opacity="1.00"/>
<path d="M54.8 30.8 L54.9 33.0 L55.2 35.3" stroke="#28bcd0" stroke-width="1.4" stroke-opacity="1.00"/>
<path d="M53.7 22.2 L53.8 21.5" stroke="#86d8ac" stroke-width="2.0" stroke-opacity="1.00"/>
<path d="M53.7 39.4 L53.8 40.1" stroke="#86d8ac" stroke-width="2.0" stroke-opacity="1.00"/>
<path d="M48.0 28.6 L48.0 33.0" stroke="#a4e0f0" stroke-width="1.6" stroke-opacity="1.00"/>
<path d="M54.3 14.2 L54.9 13.0" stroke="#1e61d2" stroke-width="1.2" stroke-opacity="0.70"/>
<path d="M54.3 47.4 L54.9 48.6" stroke="#1e61d2" stroke-width="1.2" stroke-opacity="0.70"/>
</g></g>
<rect x="245.1" y="111.9" width="91.5" height="61.6" fill="none" stroke="#000" stroke-width="0.50" stroke-opacity="0.90"/>
<path d="M260.4 173.6v-0.9M260.4 111.9v0.9M245.1 122.2h0.9M336.6 122.2h-0.9M275.6 173.6v-0.9M275.6 111.9v0.9M245.1 132.5h0.9M336.6 132.5h-0.9M290.9 173.6v-0.9M290.9 111.9v0.9M245.1 142.7h0.9M336.6 142.7h-0.9M306.1 173.6v-0.9M306.1 111.9v0.9M245.1 153.0h0.9M336.6 153.0h-0.9M321.4 173.6v-0.9M321.4 111.9v0.9M245.1 163.3h0.9M336.6 163.3h-0.9" stroke="#000" stroke-width="0.35" stroke-opacity="0.8" fill="none"/>
<g fill="#262626"><text x="245.1" y="178.8" font-size="2.80" text-anchor="middle" font-weight="normal">0</text><text x="260.4" y="178.8" font-size="2.80" text-anchor="middle" font-weight="normal">0.5</text><text x="275.6" y="178.8" font-size="2.80" text-anchor="middle" font-weight="normal">1</text><text x="290.9" y="178.8" font-size="2.80" text-anchor="middle" font-weight="normal">1.5</text><text x="306.1" y="178.8" font-size="2.80" text-anchor="middle" font-weight="normal">2</text><text x="321.4" y="178.8" font-size="2.80" text-anchor="middle" font-weight="normal">2.5</text><text x="336.6" y="178.8" font-size="2.80" text-anchor="middle" font-weight="normal">3</text><text x="241.5" y="112.9" font-size="2.80" text-anchor="end" font-weight="normal">4</text><text x="241.5" y="123.2" font-size="2.80" text-anchor="end" font-weight="normal">3.5</text><text x="241.5" y="133.5" font-size="2.80" text-anchor="end" font-weight="normal">3</text><text x="241.5" y="143.7" font-size="2.80" text-anchor="end" font-weight="normal">2.5</text><text x="241.5" y="154.0" font-size="2.80" text-anchor="end" font-weight="normal">2</text><text x="241.5" y="164.3" font-size="2.80" text-anchor="end" font-weight="normal">1.5</text><text x="241.5" y="174.6" font-size="2.80" text-anchor="end" font-weight="normal">1</text></g>
<rect x="247.9" y="113.4" width="8.5" height="7.9" rx="0.8" fill="#fff" stroke="#000" stroke-width="0.6"/>
<text x="252.2" y="118.9" font-size="4.60" text-anchor="middle" font-weight="bold" fill="#000">(g)</text>
<g transform="translate(355.1 111.9)" clip-path="url(#pc)">
<rect width="91.5" height="61.6" fill="#1d068e"/>
<g stroke="#000" stroke-width="0.30" stroke-opacity="0.60" stroke-linejoin="round">
<path fill="#370499" d="M0 0l91.5 0 0 61.6-91.5 0z"/>
<path fill="#4c02a1" d="M0 0l91.5 0 0 61.6-91.5 0zM83.5 18.4l-2.2 0.6-9.1 3.1-1.3 0.5-1.8 1-1.4 1-1.9 1.5-1.1 1-0.9 0.9-0.5 0.7-0.4 0.9-0.1 0.5-0.1 1 0.1 0.7 0.4 0.8 0.6 1 0.6 0.6 0.8 0.9 1.9 1.5 1.3 1 1.6 1 2.2 1 9.1 3 2.7 0.7 1 0.2 1 0 1-0.3 0.5-0.5 1-3 0.5-0.9 1.1-1.7 0.1-0.5-0.4-0.5-2.3-1.8-1.1-1.2-0.4-0.7-0.3-0.8-0.1-0.5 0.1-1 0.4-1 0.7-1 1.2-1.1 1.8-1.4 0.4-0.5-0.1-0.5-1.6-2.5-1-3.1-0.4-0.5-0.6-0.3-0.5 0-1 0z"/>
<path fill="#6001a6" d="M0 0l91.5 0 0 9.5-2 0.2-2.6 0.8-10 4.2-7 2.4-1.2 0.4-1.3 0.7-2 1.3-4 3.1-2.3 2-1.3 1.5-1.2 2-0.7 1.5-0.2 1 0 1 0.6 1.5 1.5 2.4 1 1.2 1.4 1.4 1.2 1 4 3 2 1.3 1.3 0.7 1.2 0.5 7 2.3 10 4.2 2.6 0.8 2 0.3 0 9.4-91.5 0z"/>
<path fill="#7401a8" d="M0 0l91.5 0 0 7.3-2 0.2-2.5 0.8-13.1 5.5-1.5 0.5-3.5 0.8-1 0.4-1.5 0.9-2 1.4-2.6 2.1-2.5 1.7-2 1.8-0.9 1.2-1.1 1.9-1.5 1.8-0.6 1.3-0.1 1 0.1 1.5 0.5 1 0.3 0.5 1.6 2 0.8 1.5 0.8 1 1 1 1.1 1 2.5 1.6 2.6 2.2 2 1.4 1.5 0.8 1 0.4 3.5 0.9 1.5 0.5 13.1 5.4 2.5 0.8 2 0.3 0 7.2-91.5 0z"/>
<path fill="#8707a6" d="M0 0l91.5 0 0 4.5-10.4 4.5-5.7 2.8-2.5 1-2 0.3-3-0.2-1.5 0.1-0.9 0.5-0.5 0.5-1.9 3-0.8 1-1 0.9-1 0.5-0.5 0.1-3.5 0.5-0.9 0.6-0.6 0.6-0.5 1.4 0 0.6 0.2 1.4-0.1 0.5-0.2 0.5-0.4 0.5-0.5 0.3-1 0.4-2 0.7-0.8 0.6-0.4 0.5-0.3 0.7-0.2 1.3 0 1 0.2 0.7 0.3 0.8 0.4 0.5 0.8 0.5 2 0.7 1 0.4 0.5 0.4 0.4 0.5 0.2 0.5 0.1 0.5-0.2 1.3 0 0.7 0.5 1.3 0.6 0.7 0.9 0.5 3.5 0.6 0.5 0.1 1 0.5 1 0.8 0.8 1 1.9 3 0.5 0.5 0.9 0.5 1.5 0.2 3-0.3 2 0.4 2.5 1 5.7 2.7 10.4 4.6 0 4.4-91.5 0zM54.8 1.8l-0.5 0.2-1.5 1-1.8 1.5-1.6 1.5-1.1 1.3-1 1.3-0.6 0.9-0.1 0.5 0.2 0.2 0.5-0.1 1.5-1.3 5.8-5.8 0.9-1-0.2-0.5zM55.8 1.5l-0.2 0zM55.8 60.1l-0.2 0zM46.8 51.4l-0.2 0.2 0.1 0.5 0.6 0.9 1 1.3 1.5 1.7 1.2 1.1 1.8 1.5 1.5 1 1 0.5 0.2-0.5-1.4-1.5-5.3-5.3-1.5-1.2z"/>
<path fill="#99159f" d="M0 0l55.6 0-2.2 1.5-1.8 1.5-1.8 1.7-2 2.1-1.8 2.2-1.4 2-0.5 1-0.1 0.5 0.2 0.4 0.5-0.1 0.5-0.2 1.6-0.9 1.5-1.4 3.5-3.5 2-1.9 2.5-2.1 3.7-2.8 31.5 0 0 3.8-4.5 2.1-6.3 2.6-4.8 2.3-2.5 1-1.5 0.4-1 0.1-3 0-1 0.2-1 0.3-0.5 0.3-1 0.9-2.1 3-1 1-0.5 0.4-1.5 0.6-3 0.7-0.8 0.3-0.7 0.6-0.5 0.7-0.3 0.8-0.2 1-0.1 1.5-0.2 0.5-0.2 0.3-0.7 0.7-2.8 1.4-0.8 0.6-0.4 0.5-0.2 0.5-0.2 0.5-0.1 1 0.1 1.5 0.4 1 0.4 0.5 0.8 0.6 2.8 1.4 0.6 0.5 0.3 0.5 0.2 0.5 0.2 2 0.3 1 0.6 1 0.5 0.4 1.4 0.6 2.6 0.5 1.5 0.7 1 0.8 0.5 0.6 2.1 2.9 0.4 0.5 1.1 0.7 0.7 0.3 0.8 0.2 3.5 0 1 0.2 1.5 0.4 2.5 1 4.8 2.2 6.3 2.7 4.5 2.1 0 3.7-31.5 0-3.7-2.7-2.5-2.1-2-1.9-3.5-3.6-1.5-1.3-1.6-1-0.5-0.2-0.5 0-0.2 0.3 0.1 0.5 0.5 1 1.4 2 1.8 2.2 2 2.2 1.8 1.6 1.8 1.5 2.2 1.5-55.6 0z"/>
<path fill="#aa2395" d="M0 0l54.5 0-1.7 1.3-2 1.8-2 1.9-1.8 2-2.5 3-1.8 2.5-1.5 2.5-0.1 0.5 0.1 0.1 0.5-0.1 2-1.1 1.5-0.9 1.1-0.7 1.5-1.3 4-4.1 3-2.7 3-2.3 3.6-2.4 30.1 0 0 3.3-4.5 2-12.6 5.5-1.5 0.5-1.5 0.3-3.5 0.3-1 0.2-1 0.3-1 0.6-1 1-1.8 2.5-1.3 1.3-1.5 0.8-3.5 1-0.8 0.4-0.6 0.5-0.4 0.6-0.4 1-0.3 2-0.4 1-0.4 0.5-0.7 0.5-2 1.1-0.6 0.4-0.6 0.5-0.6 1-0.3 1.5 0.1 1.5 0.5 1 0.3 0.5 0.6 0.5 0.6 0.4 2 1.1 0.7 0.5 0.4 0.5 0.4 1 0.3 2 0.4 1 0.4 0.5 0.6 0.5 0.8 0.5 3.5 1 1.5 0.8 1.3 1.2 1.8 2.5 1 1 1 0.6 1 0.4 1 0.2 3.5 0.2 1.5 0.4 1.5 0.5 12.6 5.4 4.5 2.1 0 3.2-30.1 0-3.6-2.3-3-2.3-3-2.8-4-4.1-1.5-1.3-1.1-0.7-1.5-0.9-2-1-0.5-0.1-0.1 0 0.1 0.5 1.5 2.5 1.8 2.5 2.5 3 1.8 2 2 2 2 1.7 1.7 1.3-54.5 0zM5 26.2l-0.5 1.4-0.3 1.5-0.1 1.5 0.1 1.5 0.2 1.5 0.1 0.8 0.5 1 0.5-0.1 0.4-1.2 0.2-1 0-2.5-0.1-2.3-0.2-1.2-0.3-0.8zM20.6 24.5l-0.5 0.7-0.5 1.7-0.2 1.7-0.1 2 0 2 0.3 2.1 0.5 1.8 0.5 0.7 0.5-0.4 0.3-1.2 0.2-1.7 0.1-2.8-0.1-3.3-0.2-1.7-0.3-1.3zM37.7 19.4l-0.5 0.4-1 1.4-0.9 1.9-0.4 1.5-0.3 1-0.2 2 0 5 0.1 2 0.1 1.5 0.7 2.5 0.4 1 1 1.6 0.5 0.6 0.5 0.4 0.5 0.1 0-1.2-1.3-7-0.2-3 0-1.5 0.2-2 1.4-7.6-0.1-0.6z"/>
<path fill="#b7318a" d="M0 0l32.6 0-1.9 3-1.1 2-0.3 1 0.2 0.5 0.2 0.1 1-0.6 1-0.8 1.5-1.5 3.3-3.7 17.2 0-3.4 2.9-3 3.1-6.1 7.2-3 3.4-2 2.8-1.2 2.2-0.8 2.6-0.5 2.9-0.1 3.5 0.1 3.5 0.4 3 0.4 1.5 0.5 1.5 1.2 2.2 2 2.7 3 3.5 6.1 7.1 3 3.1 3.4 2.9-17.2 0-3.3-3.6-1.5-1.5-1-0.9-1-0.5-0.2 0-0.2 0.5 0.3 1 1.1 2 1.9 3-32.6 0zM5.5 20.6l-0.5 0.6-0.5 1-0.5 1.5-0.3 1.4-0.4 3-0.1 3.5 0.2 3.5 0.6 2.9 0.5 1.5 0.5 1 0.5 0.6 0.5 0 0.5-1.1 0.4-2.9 0.2-4 0-5-0.2-3.5-0.4-2.9-0.5-1.1zM21.6 18.5l-0.5 0.5-0.5 0.7-0.5 1.1-0.8 2.3-0.3 1.5-0.3 2-0.2 4 0.1 3.7 0.3 2.3 0.3 1.5 0.4 1.4 0.5 1.4 0.5 1 0.5 0.8 0.5 0.5 0.5-0.1 0.3-1.5 0.1-10.5-0.1-11.1-0.3-1.4zM61.8 0.5l0.9-0.5 28.8 0 0 2.7-2.6 1.3-3.4 1.5-11.1 4.7-1.5 0.5-1.5 0.4-3.5 0.4-1 0.2-1 0.3-1 0.6-1.1 0.9-2.3 3-1.1 1-1.6 0.8-3 1-1 0.5-0.5 0.4-0.5 0.7-0.4 0.7-0.2 1-0.3 1.5-0.5 1-0.6 0.6-2.5 1.5-1 0.9-0.6 1-0.2 0.5-0.2 1 0 0.5 0.2 1 0.4 1 0.4 0.5 1 0.8 2.5 1.6 0.6 0.6 0.5 1 0.3 1.5 0.2 1 0.4 0.7 0.5 0.6 0.5 0.4 1 0.6 3 0.9 1.6 0.8 1.1 1 2.3 3 1.1 1 1 0.5 1 0.4 1 0.2 3.5 0.4 1.5 0.3 1.5 0.5 11.1 4.7 3.4 1.5 2.6 1.3 0 2.7-28.8 0-4.4-2.6-2-1.4-2-1.6-2.5-2.3-4.5-4.7-1.5-1.2-3.1-2.1-1-0.9-1.4-1.7-0.9-1.5-0.8-2.5-0.5-2.5-0.5-3-0.2-2.5 0.2-2.5 0.4-3 0.6-3 0.8-2.6 0.9-1.5 1.2-1.5 1.2-1 3.1-2.1 1.5-1.3 4.5-4.6 2-1.9 1.5-1.3 2-1.5 2.5-1.6z"/>
<path fill="#c5407e" d="M0 0l13.3 0-4 8-2.3 3.8-1 1.9-1.5 3.5-1 3.4-0.6 3-0.4 3.5-0.1 3.5 0.1 3.7 0.4 3.8 0.6 2.9 1 3.4 1.5 3.6 1 1.8 2.3 3.8 4 8-13.3 0zM17.3 0.5l0.3-0.5 13.8 0-2.5 3.5-6.8 9.9-1 1.7-1 2-1 2.7-0.8 3.3-0.4 3.5-0.1 4 0.1 4.5 0.4 3.5 0.8 3.3 1 2.7 1 2 1 1.6 6.8 9.9 2.5 3.5-13.8 0-2-2.6-3.2-3.9-1.4-2-0.6-1-0.7-1.5-0.9-3-0.4-2.5-0.3-3-0.2-4-0.1-5.5 0-6 0.2-5 0.2-3.6 0.4-3 0.8-3 0.5-1.5 0.8-1.5 0.6-1 1.1-1.5zM37.2 0.5l0.4-0.5 15.3 0-2.6 2.3-2.7 2.7-5.9 6.6-3.7 3.9-1.3 1.5-1 1.5-0.6 1-0.7 1.6-0.5 1.5-0.4 1.5-0.4 3-0.2 3.5 0.2 4 0.4 3 0.4 1.5 0.5 1.5 0.7 1.5 0.6 1 1 1.5 1.3 1.5 3.7 4 5.9 6.5 2.7 2.7 2.6 2.3-15.3 0-5.9-7-3.6-4-1.3-1.5-1-1.5-0.5-1-0.8-2-0.4-1.5-0.5-2.5-0.3-3-0.1-3.5 0-6.5 0.1-3 0.2-2.5 0.3-2.6 0.5-2 1-2.5 0.5-1 1-1.5 1.3-1.5 3.6-3.9zM63 0.5l1-0.5 27.5 0 0 2.2-5.9 2.8-10.8 4.5-2.9 0.9-5 0.8-1 0.4-1 0.5-1.1 0.9-2.4 3-1.1 1-1.5 0.9-3.5 1.3-1 0.6-0.5 0.5-0.7 1.3-0.6 2.5-0.6 1-0.6 0.5-2.9 2-0.5 0.5-0.6 1-0.2 0.5-0.3 1 0.1 1 0.4 1 0.6 1 0.5 0.5 2.9 1.9 0.6 0.6 0.6 1 0.4 2 0.4 0.9 0.8 1.1 1.2 0.9 3.5 1.2 1.5 0.9 1.1 1 2.4 3 1.1 0.9 1 0.6 1 0.3 5 0.8 2.5 0.8 13.1 5.5 4 1.9 0 2.2-27.5 0-3.2-1.6-2.5-1.6-2-1.3-2-1.6-2.5-2.4-4.3-4.5-1.2-1-2.7-2-1.2-1-1.3-1.5-1.2-2-0.8-2.5-0.5-2.5-0.4-3-0.1-3 0.3-3 0.4-3 0.7-2.5 0.4-1 0.6-1.1 1-1.5 0.9-1 1.2-1 3.7-2.8 1.5-1.4 3-3.3 2.7-2.5 1.8-1.4 2-1.4 2-1.2z"/>
<path fill="#d14e72" d="M1.5 0.5l0.2-0.5 9.6 0-3.6 5.5-1.5 2.5-1.4 3-1.1 3-0.9 3.5-0.6 3.6-0.4 4.5-0.1 5 0.1 5 0.4 4.5 0.6 4 0.9 3.5 1.1 3 1.4 3 1.5 2.5 3.6 5.5-9.6 0-1.7-3 0-55.5zM19.1 0.5l0.3-0.5 10.8 0-8.2 10.5-1.6 2.5-1 2-1.1 3-0.7 3.6-0.4 4-0.1 5 0.1 5.5 0.4 4 0.7 3.5 1.1 3 1 2 1.6 2.5 8.2 10.5-10.8 0-5.5-8.5-1.8-3.1-0.9-1.9-0.7-2-0.6-2-0.6-2.5-0.3-2.5-0.3-3-0.2-3 0-3.5 0.1-3.5 0.3-3 0.3-2.5 0.6-2.6 1-3.5 0.8-1.8 0.8-1.7 1.5-2.5zM38.1 0.5l0.5-0.5 13.6 0-3.4 3.2-6.6 7-5 4.8-1 1.2-1 1.3-0.5 1-0.7 1.5-0.5 1.6-0.6 2-0.4 3.5-0.2 4 0.2 4 0.6 3.5 0.9 3 0.7 1.5 0.9 1.5 1.6 2 5 4.9 6.1 6.5 2 1.9 1.9 1.7-13.6 0-2.5-3-3.9-5.2-3.5-4.4-1.4-1.9-0.9-1.5-0.7-1.5-0.6-1.5-0.5-1.7-0.4-2.3-0.2-2.5-0.2-3.5 0.1-4.5 0.1-2.5 0.2-2.5 0.4-2 0.5-2.1 1-2.5 1.6-2.5 4.5-5.8 3.9-5.2zM64.3 0.5l1.1-0.5 26.1 0 0 1.7-5.8 2.8-10.8 4.4-3 0.9-3.5 0.6-1.5 0.4-1 0.3-1 0.6-1.6 1.2-2.1 2.6-1.4 1.4-1.1 0.6-3.4 1.3-1 0.6-0.7 0.6-0.6 1.1-0.4 1-0.4 1.5-0.4 1-0.9 1-2.9 2-0.4 0.5-0.8 1-0.4 1-0.1 0.5 0 0.5 0.3 1 0.6 1 0.8 1 2.9 2 0.9 1 0.4 1 0.4 1.5 0.4 1 0.8 1.2 0.5 0.4 1 0.6 3.4 1.3 1.1 0.7 1.4 1.3 2.1 2.6 1.6 1.3 1 0.5 1 0.4 1.5 0.3 3.5 0.6 2.5 0.8 11.3 4.5 5.8 2.8 0 1.7-26.1 0-3.1-1.4-3-1.7-2.5-1.6-2-1.6-2.5-2.3-4.5-4.7-1.4-1.2-2.6-2-1.1-1-1.3-1.5-1.1-2-0.8-2.5-0.4-2.5-0.2-2.5 0-4.5 0.2-2.5 0.4-2.5 0.8-2.5 0.8-1.6 0.7-1 0.9-1 1.1-1 2.6-2 1.4-1.1 4.5-4.8 2.5-2.3 2-1.5 2-1.4 2.5-1.4zM42.2 29.8l-0.3 0.3-0.2 0.3-0.1 0.7 0.3 0.5 0.3 0.2 0.5 0.1 0.6-0.3 0.3-0.5 0-0.5-0.4-0.6-0.5-0.2z"/>
<path fill="#dc5d67" d="M4.5 0.5l0.2-0.5 3.9 0-2.6 3-3 3.2-0.2-0.2 0.2-1zM20.9 0.5l0.2-0.5 7.6 0-3.1 3.6-4.1 4.4-1.7 2-1 1.5-0.5 1-0.9 2.5-0.4 2-0.3 1.5-0.3 5.1 0 14 0.1 3 0.3 3 0.5 2.5 0.6 2 0.6 1.5 0.9 1.5 1.7 2 4 4.4 3.6 4.1-7.6 0-4.2-8-3.3-5.4-1.5-2.9-1-2.5-0.5-1.6-0.6-2.1-0.4-2.8-0.4-4.2 0.1-4.5 0.3-2.3 0.3-2.2 0.9-3.6 0.8-2 1-2.2 1-1.9 3.3-5.4zM39.1 0.5l0.4-0.5 11.9 0-3.1 3-6.6 6.7-5.5 4.8-1.4 1.5-0.9 1.5-0.6 1.5-0.7 2.6-0.5 2.5-0.3 2.5-0.1 3.5 0 3.5 0.3 3 0.4 2.5 0.4 2 0.7 2 1 2 0.7 1 1.5 1.5 3.5 3 2 1.8 6.1 6.2 3.1 3-11.9 0-2.7-3.5-4.6-6.8-4.5-6.1-0.9-1.6-0.7-1.4-0.5-1.6-0.5-1.8-0.3-2.2-0.2-2.5-0.1-3 0.1-3 0.1-2.5 0.3-2 0.4-2 0.5-1.6 0.9-2 1.4-2.3 3.5-4.6 4.7-7.1zM65.8 0.5l1.1-0.5 24.6 0 0 1.2-5.8 2.8-10.3 4.1-3 1-5 1-1 0.3-1 0.5-1 0.6-1.1 0.9-2.5 2.9-1.3 1.2-1.7 1-3 1.2-1.2 0.8-0.4 0.5-0.6 1.1-0.8 2.5-0.5 1-0.9 1-2.8 2-0.9 1-0.9 1.2-0.6 0.4-0.5-0.2-1.3-0.9-0.7-0.3-1 0-1 0.5-0.5 0-0.3-0.7-0.2-1.5 0-1.5 0.4-2 0.4-1.5 0.6-1.5 0.9-1.6 0.7-0.8 1.5-1.4 3.6-2.8 1-1 3.6-4 1.6-1.5 1.8-1.5 2-1.4 2-1.2 2.5-1.3zM1.7 8l0.3-0.5 0.1 0.5-0.9 5.5-0.2 5-0.1 22.6 0.3 6 0.5 4 0.3 2 0.1 0.5-0.1 0.5-2-2.5 0-41.5 1.5-2zM44.9 31.6l0.3-0.2 0.6 0.5 0.9 1.2 0.9 1 2.8 2 0.9 0.9 0.5 1.1 0.8 2.5 0.6 1 0.4 0.5 1.2 0.8 3 1.3 1.7 0.9 1.3 1.3 2.4 2.7 0.6 0.6 1.1 0.8 1 0.5 1.5 0.5 4.5 0.9 2.4 0.7 10.2 4 3.4 1.5 3.6 1.9 0 1.1-24.6 0-5.6-2.6-3.5-2-2-1.4-1.8-1.5-2-2-3.2-3.5-1-1-3.3-2.5-1.2-1-1.3-1.5-0.9-1.5-0.8-2-0.4-2-0.2-2 0-1.4 0.2-0.6 0.3-0.8 0.5 0.1 1 0.4 1 0.1 0.7-0.3 1.3-1zM2.8 55.6l0.2-0.2 3 3.3 2.6 2.9-3.9 0-1.2-3.2-0.5-1.8z"/>
<path fill="#e66c5c" d="M23.8 0l2.4 0-1.1 0.8-0.5 0.3-0.5 0.1-0.2-0.2-0.1-0.5zM40 0.5l0.5-0.5 10.1 0-2.3 2.2-5.1 5.1-2.5 2.2-2 1.5-2 1.2-2 1-1 0.3-0.2-0.5 0.1-1 0.5-1.5 1.1-2.5 1.1-2 1.2-2zM67.4 0.5l1.2-0.5 22.9 0 0 0.6-6 3-8.8 3.4-3.8 1.3-4.5 1-1.5 0.4-1 0.4-1 0.5-1.1 0.7-0.8 0.7-2.6 3-1.1 1-1.6 1-2.9 1.3-1 0.6-0.5 0.5-0.8 1.2-1.1 3-0.5 1-1 1-2.1 1.5-2 1.7-0.6 0.2-0.5-0.1-2-0.9-1.5-0.3-0.5-0.4-0.3-0.7 0-1 0.1-1.5 0.4-1.5 0.5-1.5 0.5-1.1 0.7-1 0.9-1 1.2-1.1 2.6-1.8 1-0.9 4.5-4.9 1.9-1.8 1.6-1.3 2-1.3 2-1.1zM30.7 16l0.5-0.2 0.5-0.2 0.4 0.4 0 0.5-0.8 7.1-0.3 3-0.1 3 0.1 3.5 0.1 3 0.3 3 0.7 6 0 0.5-0.4 0.4-0.5-0.1-0.5-0.3-1.5-1.3-1-1.3-1.1-1.7-0.7-1.7-0.5-2-0.4-2-0.2-3 0-3 0.1-2.5 0.3-2 0.6-2.5 0.8-2.3 1.1-1.7 1-1.2zM13.6 19.5l0.5 0.1 0.5 0.7 0.5 1.9 0.4 3.9 0.1 4.5-0.1 4.5-0.4 4.4-0.5 1.9-0.5 0.6-0.5 0.1-0.5-0.3-0.5-0.5-0.5-0.8-0.5-1-0.5-1.3-0.5-1.9-0.3-1.7-0.2-2-0.1-1.5 0.1-2 0.2-2 0.3-1.7 0.5-1.9 0.5-1.3 0.5-1.1 0.5-0.7 0.5-0.6zM0 27.6l0.1 3.5-0.1 3.2zM43.9 33.1l0.8-0.4 0.5 0 0.6 0.2 2 1.7 2.5 1.8 0.6 0.7 0.3 0.5 1.3 3.5 0.8 1.2 0.5 0.4 1 0.6 2.9 1.3 1.6 1 1.1 1 2.6 3 0.8 0.7 1.1 0.7 1.5 0.8 1 0.3 4.5 1 2 0.5 9.3 3.5 3.5 1.5 4.8 2.4 0 0.6-22.9 0-6.8-3-3.5-1.8-2.4-1.7-2.1-1.8-2-2-3.5-3.9-1-0.8-2.6-1.9-1.2-1.1-0.9-1-0.7-1-0.9-2-0.4-1.5-0.2-1.5 0-1.5 0.3-0.8 0.5-0.4 1.5-0.3zM33.5 48.6l0.2-0.4 1 0.3 3 1.6 2.5 1.6 1.5 1.2 1.5 1.4 5.1 5.1 2.3 2.2-10.1 0-2.7-3.5-2.1-3.5-1.6-3.5-0.5-1.5zM23.9 60.6l0.2-0.1 0.5 0.1 1 0.6 0.6 0.4-2.4 0 0-0.5z"/>
<path fill="#ee7b51" d="M41.1 0.5l0.4-0.5 8.2 0-5.5 5.4-2.5 2.1-1.5 1-1 0.5-1 0.2-0.5-0.1-0.2-0.1-0.3-0.5 0-0.5 0.2-1 0.3-1 1.3-2.5zM69.3 0.5l1.2-0.5 21 0-3.9 2-2.1 1-5.1 2-6 2.1-2.5 0.7-4 0.9-1.5 0.5-1 0.5-1 0.6-1.5 1.2-3.1 3.3-1.4 1.2-1.1 0.7-3 1.4-1.3 0.9-0.4 0.5-0.6 1.1-1 3-0.6 1-1.1 1-3 2.2-0.5 0.3-0.6 0.1-0.5 0-2.6-1.1-0.6-0.5-0.3-0.5-0.1-0.5-0.1-1 0.2-1 0.8-2.5 0.8-1.6 0.8-1 1.1-1 3.1-2.2 1-0.9 3-3.4 2-2 1.5-1.3 1.5-1.2 2.4-1.5 3.1-1.5zM28.5 22.1l0.2-0.1 0.5-0.1 0.5 0.6 0.1 1.1 0.2 1.5-0.1 12-0.2 2-0.5 0.7-0.5-0.1-0.5-0.4-0.5-0.8-0.6-1-0.6-2.4-0.3-3.5 0.1-3 0.3-2.7 0.5-1.7 0.6-1.1 0.5-0.7zM12.6 25.1l0.5-0.3 0.5 0.3 0.4 1 0.4 1.5 0.2 2 0 2.8-0.3 2.2-0.2 0.9-0.3 0.6-0.2 0.4-0.5 0.3-0.5-0.2-0.5-0.6-0.4-0.9-0.4-1.5-0.2-2 0-2 0.3-2 0.2-0.7 0.5-1.2zM44.3 33.6l0.9-0.2 0.6 0.2 0.5 0.3 3.6 2.7 0.5 0.5 0.6 1 1 3 0.6 1 0.4 0.5 1.3 0.9 3.3 1.6 1.2 0.8 1 0.9 3 3.3 1 0.9 1.1 0.7 1 0.5 1.5 0.6 4.5 1 2 0.6 7.8 2.7 4.9 2 4.9 2.5-21 0-9.2-3.9-3-1.6-2.2-1.5-2.3-1.9-2-2.1-3-3.4-1-0.8-2.6-1.8-1-0.9-1-1-0.7-1.1-0.5-1-0.7-2-0.3-1.5 0.1-1 0.1-0.6 0.5-0.7zM37.5 52.6l0.7-0.2 1 0.3 1 0.4 1.5 1 2.5 2.2 5.5 5.3-8.2 0-2.2-3-0.9-1.5-0.7-1.5-0.3-1-0.2-1 0-0.5z"/>
<path fill="#f58c46" d="M42.7 0l5.9 0-3.4 3.2-2 1.7-1 0.7-1 0.5-0.5 0.1-0.5-0.2-0.2-0.5 0-0.5 0.3-1 1-2zM71.4 0.5l1-0.5 17.9 0-4.3 2.2-4.7 1.8-7.6 2.5-5.8 1.3-1.5 0.5-1 0.5-1.6 1.1-2.5 2.2-1.7 1.4-2.6 2.5-0.6 0.5-2.6 1.4-1 0.7-0.5 0.6-0.5 0.8-1 3.1-0.5 1-0.5 0.6-1 0.9-2.5 1.6-1.1 0.4-0.5-0.1-0.5-0.2-2.1-1.2-0.3-0.5-0.1-0.5 0-1.5 0.4-1.5 0.4-1 0.9-1.6 0.8-1 1-0.8 2.6-1.7 1.2-1 0.9-1 2.4-2.7 3.5-3.3 2-1.5 2-1.1 2.1-0.9 4.5-1.7zM45.1 34.1l0.7 0.1 1 0.5 2 1.4 1.1 1 0.4 0.5 0.5 1 1 3 0.5 0.9 0.5 0.5 1 0.8 2.6 1.3 0.6 0.5 2.6 2.5 1.7 1.4 2.5 2.3 1.6 1 1 0.5 1.5 0.5 5.8 1.3 7.6 2.5 4.7 1.9 4.3 2.1-17.9 0-5-2.3-6.7-2.7-2.9-1.4-2-1.6-2.5-2.2-1.5-1.6-1.9-2.2-0.9-1-4.2-3-1-1-0.8-1-0.7-1.5-0.5-1.5-0.1-1 0-1.1 0.1-0.4 0.4-0.6 2-1.2 0.5-0.2zM40.2 55.6l0.5-0.1 0.5 0.1 1 0.4 1 0.7 2 1.7 3.4 3.2-5.9 0-1.4-2-1-2-0.3-1 0-0.5z"/>
<path fill="#fa9e3b" d="M74.3 0.5l0.8-0.5 13.3 0-1.9 1-2.4 1-4.5 1.5-3.8 1-2.4 0.5-3.5 0.4-2.5 0-0.2-0.4 0.7-0.3 1.6-1.2zM63.9 5.5l3-0.1 0.4 0.1-0.4 0.1-1 0.7-2.9 2.7-1.7 1.4-1.5 0.7-2 0.4-0.5 0.2-0.4 0.3-0.2 0.5-0.6 2-0.2 0.5-1 1-2.1 1.7-1 1.2-0.5 1.1-0.9 3.1-0.5 1-0.6 0.6-1 0.8-1 0.7-1.5 0.7-0.6 0.1-0.5-0.2-1-0.6-0.8-0.6-0.4-0.5-0.2-0.5 0-0.5 0.3-2 0.4-1 0.6-1.1 1.1-1.3 1.6-1.2 3.2-2 1.1-1 2.2-2.1 1-0.7 1.9-1.2 0.6-0.6 1-1.4 0.5-0.5 1-0.8 1.3-0.7 1.2-0.5zM44.2 35.1l1-0.4 1.1 0.2 2 1.2 1.1 1 0.5 0.5 0.5 1 0.9 3 0.5 1.1 1 1.3 2.1 1.6 1 1 0.2 0.5 0.6 2 0.2 0.5 0.4 0.4 0.5 0.1 2 0.4 1.5 0.8 1.7 1.3 2.9 2.8 1 0.7 0.4 0-0.4 0.2-1.5-0.1-2.6-0.2-2-0.6-1.7-0.8-1.3-1-2.1-2.5-1.9-1.1-1-0.7-2.2-2.2-1.1-1-3.2-2-1.6-1.1-1-1.2-0.7-1.2-0.4-1-0.3-1.5 0-1 0.2-0.5 0.4-0.5zM67.2 56.6l0.2-0.3 3 0 3 0.3 2.4 0.5 3.8 1 3.2 1 2.6 1 3 1.5-13.3 0-5.6-3.5-1.6-1.1z"/>
<path fill="#fdb130" d="M79.4 0l5.7 0-1.4 0.5-1.2 0.3-1.1 0.2-1 0.1-0.6-0.1-0.4-0.3-0.1-0.2zM48.9 17l0.9 0 0.5 0 0.5 0.5 0.1 1-0.1 1-0.5 2.6-0.3 1-0.7 1-0.4 0.5-0.6 0.5-1 0.6-1 0.5-0.5 0-0.6 0-0.5-0.2-0.6-0.4-0.5-0.5-0.4-0.5-0.1-0.5 0-1.5 0.4-1.5 0.6-1.1 0.4-0.5 1.3-1 1.5-0.9 1-0.4zM44.9 35.6l0.9-0.2 0.5 0.1 1 0.5 1.5 1 0.9 1.1 0.6 1.5 0.6 3 0 1-0.1 0.5-0.5 0.5-0.5 0.1-1-0.1-1-0.3-1-0.5-1-0.6-0.8-0.6-0.8-0.9-0.4-0.6-0.6-1.5-0.2-1 0.1-1 0.1-0.5 0.4-0.5 0.5-0.5zM79.8 60.6l1.1 0 1 0.1 1.8 0.4 1.4 0.5-5.7 0-0.1-0.5 0.1-0.2z"/>
<path fill="#fdc527" d="M46.9 18.5l0.9-0.2 0.5 0 0.5 0 0.5 0.3 0.5 0.7 0.2 0.7 0 1.1-0.2 1-0.5 1.3-0.5 0.7-0.5 0.4-1 0.6-1 0.3-0.5 0-0.9-0.3-0.7-0.7-0.2-0.3-0.2-1 0-1 0.4-1 0.6-1.1 1-0.9zM44.9 36.6l0.9-0.4 0.5 0 1 0.3 1 0.6 0.5 0.5 0.5 0.7 0.5 1.3 0.2 1.5-0.2 1.3-0.5 0.7-0.5 0.2-0.5 0.1-1-0.2-0.5-0.1-1-0.6-1.1-0.9-0.5-0.8-0.2-0.7-0.2-1 0-0.5 0.2-1 0.3-0.5z"/>
<path fill="#fad824" d="M46.8 19.5l1-0.1 0.5 0.1 0.5 0.5 0.2 0.6 0.1 1-0.2 1-0.2 0.5-0.4 0.5-0.5 0.5-0.5 0.2-0.5 0.2-0.5 0-0.5-0.1-0.5-0.3-0.4-0.5-0.2-0.5 0-1 0.3-1 0.4-0.5 0.5-0.6zM45.3 37.6l0.5-0.3 0.5-0.1 0.5 0 1 0.4 0.5 0.4 0.4 0.6 0.4 1 0 1-0.3 1-0.5 0.5-0.5 0.1-1-0.1-0.9-0.5-0.7-0.7-0.4-0.8-0.2-1 0.1-0.7z"/>
<path fill="#f3ee27" d="M46.6 21.1l0.7-0.2 0.5 0.3 0.1 0.4 0 0.5-0.2 0.5-0.4 0.4-0.5 0.2-0.5-0.1-0.4-0.5 0-0.5 0.2-0.5zM46.2 38.6l0.6-0.1 0.4 0.1 0.5 0.5 0.2 0.5 0 0.5-0.3 0.5-0.3 0.2-0.5-0.1-0.7-0.6-0.2-0.5 0-0.5z"/>
</g></g>
<rect x="355.1" y="111.9" width="91.5" height="61.6" fill="none" stroke="#000" stroke-width="0.50" stroke-opacity="0.90"/>
<path d="M370.4 173.6v-0.9M370.4 111.9v0.9M355.1 122.2h0.9M446.6 122.2h-0.9M385.6 173.6v-0.9M385.6 111.9v0.9M355.1 132.5h0.9M446.6 132.5h-0.9M400.9 173.6v-0.9M400.9 111.9v0.9M355.1 142.7h0.9M446.6 142.7h-0.9M416.1 173.6v-0.9M416.1 111.9v0.9M355.1 153.0h0.9M446.6 153.0h-0.9M431.4 173.6v-0.9M431.4 111.9v0.9M355.1 163.3h0.9M446.6 163.3h-0.9" stroke="#000" stroke-width="0.35" stroke-opacity="0.8" fill="none"/>
<g fill="#262626"><text x="355.1" y="178.8" font-size="2.80" text-anchor="middle" font-weight="normal">0</text><text x="370.4" y="178.8" font-size="2.80" text-anchor="middle" font-weight="normal">0.5</text><text x="385.6" y="178.8" font-size="2.80" text-anchor="middle" font-weight="normal">1</text><text x="400.9" y="178.8" font-size="2.80" text-anchor="middle" font-weight="normal">1.5</text><text x="416.1" y="178.8" font-size="2.80" text-anchor="middle" font-weight="normal">2</text><text x="431.4" y="178.8" font-size="2.80" text-anchor="middle" font-weight="normal">2.5</text><text x="446.6" y="178.8" font-size="2.80" text-anchor="middle" font-weight="normal">3</text><text x="351.5" y="112.9" font-size="2.80" text-anchor="end" font-weight="normal">4</text><text x="351.5" y="123.2" font-size="2.80" text-anchor="end" font-weight="normal">3.5</text><text x="351.5" y="133.5" font-size="2.80" text-anchor="end" font-weight="normal">3</text><text x="351.5" y="143.7" font-size="2.80" text-anchor="end" font-weight="normal">2.5</text><text x="351.5" y="154.0" font-size="2.80" text-anchor="end" font-weight="normal">2</text><text x="351.5" y="164.3" font-size="2.80" text-anchor="end" font-weight="normal">1.5</text><text x="351.5" y="174.6" font-size="2.80" text-anchor="end" font-weight="normal">1</text></g>
<rect x="356.6" y="113.4" width="8.5" height="7.9" rx="0.8" fill="#fff" stroke="#000" stroke-width="0.6"/>
<text x="360.9" y="118.9" font-size="4.60" text-anchor="middle" font-weight="bold" fill="#000">(h)</text>
<text x="37.5" y="90.4" font-size="3.45" font-weight="bold" fill="#fff" textLength="33.2" lengthAdjust="spacingAndGlyphs">Central plasma spot</text>
<line x1="63.0" y1="85.5" x2="68.8" y2="73.8" stroke="#fff" stroke-width="0.85"/>
<polygon points="69.0,73.2 68.5,76.1 67.0,75.4" fill="#fff"/>
<text x="144.5" y="54.1" font-size="3.45" font-weight="bold" fill="#fff" textLength="38.2" lengthAdjust="spacingAndGlyphs">High-intensity regions</text>
<line x1="167.8" y1="55.6" x2="177.0" y2="61.5" stroke="#fff" stroke-width="0.85"/>
<polygon points="177.5,61.8 174.7,61.0 175.6,59.6" fill="#fff"/>
<line x1="167.8" y1="55.6" x2="176.7" y2="74.6" stroke="#fff" stroke-width="0.85"/>
<polygon points="177.0,75.1 175.0,73.0 176.5,72.2" fill="#fff"/>
<text x="127.7" y="91.4" font-size="3.45" font-weight="bold" fill="#fff" textLength="39.6" lengthAdjust="spacingAndGlyphs">Observation point (node)</text>
<line x1="127.9" y1="87.3" x2="126.7" y2="73.9" stroke="#fff" stroke-width="0.85"/>
<polygon points="126.6,73.3 127.7,76.0 126.0,76.2" fill="#fff"/>
<text x="33.3" y="160.8" font-size="3.45" font-weight="bold" fill="#fff" textLength="37.6" lengthAdjust="spacingAndGlyphs">Diagonal plasma spots</text>
<line x1="57.1" y1="155.9" x2="67.6" y2="136.9" stroke="#fff" stroke-width="0.85"/>
<polygon points="67.9,136.4 67.3,139.2 65.8,138.4" fill="#fff"/>
<line x1="57.1" y1="155.9" x2="66.9" y2="152.6" stroke="#fff" stroke-width="0.85"/>
<polygon points="67.5,152.4 65.1,154.1 64.5,152.5" fill="#fff"/>
<text x="127.9" y="165.6" font-size="3.45" font-weight="bold" fill="#fff" textLength="47.1" lengthAdjust="spacingAndGlyphs">Observation point (anti-node)</text>
<line x1="129.2" y1="160.0" x2="127.1" y2="145.6" stroke="#fff" stroke-width="0.85"/>
<polygon points="127.0,145.0 128.3,147.7 126.6,147.9" fill="#fff"/>
<text x="247.2" y="95.9" font-size="3.45" font-weight="bold" fill="#fff" textLength="89.3" lengthAdjust="spacingAndGlyphs">New central plasma spot is being formed at (1.58, 2.5).</text>
<line x1="283.6" y1="89.3" x2="291.1" y2="73.2" stroke="#fff" stroke-width="0.85"/>
<polygon points="291.4,72.7 290.9,75.6 289.4,74.8" fill="#fff"/>
<text x="357.4" y="95.7" font-size="3.45" font-weight="bold" fill="#fff" textLength="73.8" lengthAdjust="spacingAndGlyphs">Microwave wave is not cutted off at (1.58, 2.5).</text>
<line x1="394.8" y1="88.8" x2="401.9" y2="73.9" stroke="#fff" stroke-width="0.85"/>
<polygon points="402.2,73.4 401.7,76.3 400.2,75.5" fill="#fff"/>
<text x="252.6" y="169.4" font-size="3.45" font-weight="bold" fill="#fff" textLength="66.8" lengthAdjust="spacingAndGlyphs">New central plasma spot has been formed.</text>
<line x1="283.6" y1="164.0" x2="291.1" y2="148.1" stroke="#fff" stroke-width="0.85"/>
<polygon points="291.4,147.6 290.9,150.5 289.4,149.7" fill="#fff"/>
<text x="357.4" y="168.5" font-size="3.45" font-weight="bold" fill="#fff" textLength="47.1" lengthAdjust="spacingAndGlyphs">Observation point (anti-node)</text>
<line x1="359.5" y1="163.6" x2="357.8" y2="150.3" stroke="#fff" stroke-width="0.85"/>
<polygon points="357.7,149.7 358.9,152.4 357.2,152.6" fill="#fff"/>
<text x="117.3" y="36.8" font-size="5.10" text-anchor="middle" font-weight="bold" fill="#000">2.08 [μs] (Initial state 0)</text>
<text x="118.2" y="109.9" font-size="5.10" text-anchor="middle" font-weight="bold" fill="#000">2.14 [μs] (A1)</text>
<text x="347.6" y="36.8" font-size="5.10" text-anchor="middle" font-weight="bold" fill="#000">2.16 [μs] (A2)</text>
<text x="348.0" y="109.9" font-size="5.10" text-anchor="middle" font-weight="bold" fill="#000">2.21 [μs] (A3)</text>
<text x="0.0" y="0.0" font-size="5.00" text-anchor="middle" font-weight="bold" fill="#000" transform="translate(4.6 70.3) rotate(-90)">y/λ [-]</text>
<text x="0.0" y="0.0" font-size="5.00" text-anchor="middle" font-weight="bold" fill="#000" transform="translate(4.6 143) rotate(-90)">y/λ [-]</text>
<text x="0.0" y="0.0" font-size="5.00" text-anchor="middle" font-weight="bold" fill="#000" transform="translate(234.5 70.3) rotate(-90)">y/λ [-]</text>
<text x="0.0" y="0.0" font-size="5.00" text-anchor="middle" font-weight="bold" fill="#000" transform="translate(234.5 143) rotate(-90)">y/λ [-]</text>
<text x="292.8" y="184.2" font-size="4.90" text-anchor="middle" font-weight="bold" fill="#000">x/λ [-]</text>
<text x="403.0" y="184.2" font-size="4.90" text-anchor="middle" font-weight="bold" fill="#000">x/λ [-]</text>
<text x="181.4" y="214.9" font-size="5.1" text-anchor="middle" font-weight="bold"><tspan font-style="italic">n</tspan><tspan font-size="3.6" dy="1">e</tspan><tspan dy="-1"> [10</tspan><tspan font-size="3.6" dy="-1.8">15</tspan><tspan dy="1.8"> cm</tspan><tspan font-size="3.6" dy="-1.8">-3</tspan><tspan dy="1.8">]</tspan></text>
<text x="287.8" y="215.2" font-size="5.1" text-anchor="middle" font-weight="bold"><tspan font-style="italic">E</tspan><tspan font-size="3.6" dy="1">rms</tspan><tspan dy="-1">/</tspan><tspan font-style="italic">E</tspan><tspan font-size="3.6" dy="1">0,rms</tspan><tspan dy="-1"> [-]</tspan></text>
<rect x="133.8" y="196.4" width="93.3" height="6.6" fill="url(#gq)" stroke="#000" stroke-width="0.5"/>
<path d="M133.8 196.4v1M133.8 203.0v-1" stroke="#000" stroke-width="0.4" stroke-opacity="0.7"/>
<text x="134.2" y="208.9" font-size="4.70" text-anchor="middle" font-weight="bold" fill="#000">0</text>
<path d="M157.1 196.4v1M157.1 203.0v-1" stroke="#000" stroke-width="0.4" stroke-opacity="0.7"/>
<text x="157.1" y="208.9" font-size="4.70" text-anchor="middle" font-weight="bold" fill="#000">5.0</text>
<path d="M180.4 196.4v1M180.4 203.0v-1" stroke="#000" stroke-width="0.4" stroke-opacity="0.7"/>
<text x="180.4" y="208.9" font-size="4.70" text-anchor="middle" font-weight="bold" fill="#000">10</text>
<path d="M203.7 196.4v1M203.7 203.0v-1" stroke="#000" stroke-width="0.4" stroke-opacity="0.7"/>
<text x="203.7" y="208.9" font-size="4.70" text-anchor="middle" font-weight="bold" fill="#000">15</text>
<path d="M227.0 196.4v1M227.0 203.0v-1" stroke="#000" stroke-width="0.4" stroke-opacity="0.7"/>
<text x="224.3" y="208.9" font-size="4.70" text-anchor="middle" font-weight="bold" fill="#000">20</text>
<rect x="242.3" y="196.4" width="93.6" height="6.6" fill="url(#gp)" stroke="#000" stroke-width="0.5"/>
<path d="M242.3 196.4v1M242.3 203.0v-1" stroke="#000" stroke-width="0.4" stroke-opacity="0.7"/>
<text x="242.8" y="208.9" font-size="4.70" text-anchor="middle" font-weight="bold" fill="#000">0</text>
<path d="M265.7 196.4v1M265.7 203.0v-1" stroke="#000" stroke-width="0.4" stroke-opacity="0.7"/>
<text x="265.7" y="208.9" font-size="4.70" text-anchor="middle" font-weight="bold" fill="#000">0.5</text>
<path d="M289.1 196.4v1M289.1 203.0v-1" stroke="#000" stroke-width="0.4" stroke-opacity="0.7"/>
<text x="289.1" y="208.9" font-size="4.70" text-anchor="middle" font-weight="bold" fill="#000">1.0</text>
<path d="M312.5 196.4v1M312.5 203.0v-1" stroke="#000" stroke-width="0.4" stroke-opacity="0.7"/>
<text x="312.5" y="208.9" font-size="4.70" text-anchor="middle" font-weight="bold" fill="#000">1.5</text>
<path d="M335.9 196.4v1M335.9 203.0v-1" stroke="#000" stroke-width="0.4" stroke-opacity="0.7"/>
<text x="335.9" y="208.9" font-size="4.70" text-anchor="middle" font-weight="bold" fill="#000">2.0</text>
</svg></body></html>
